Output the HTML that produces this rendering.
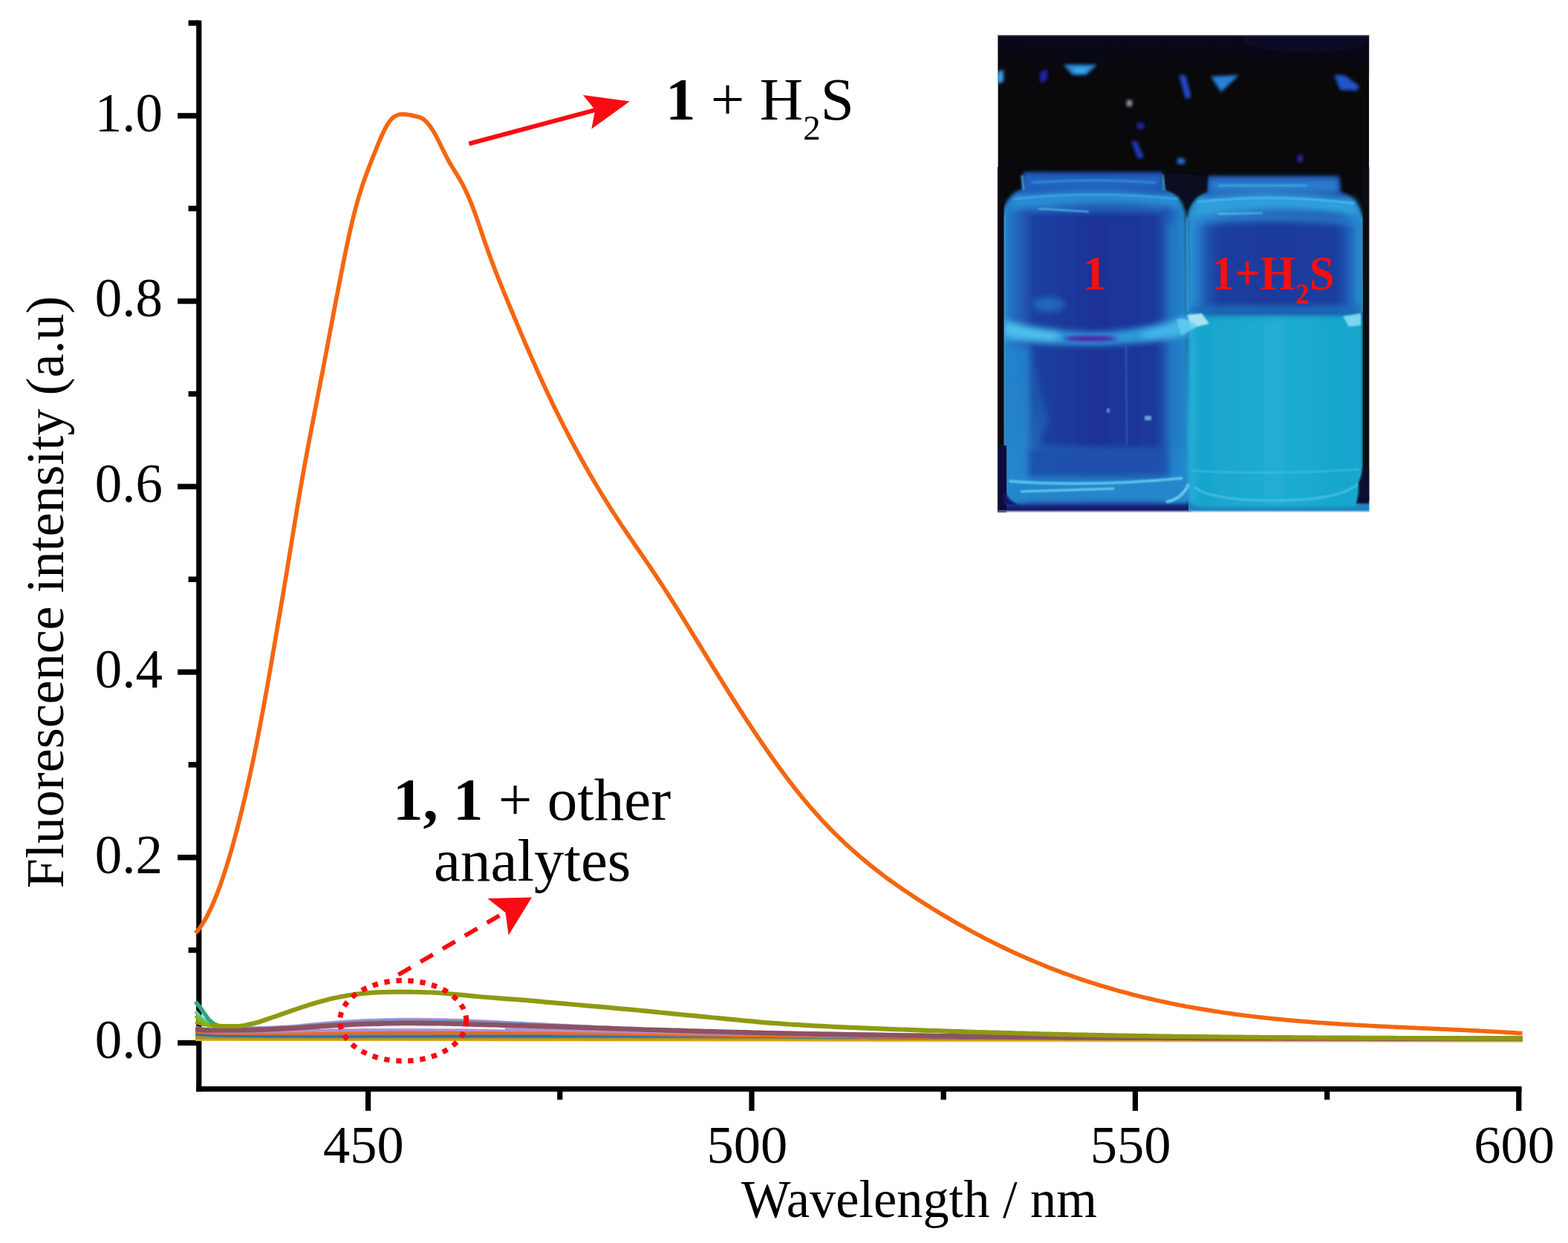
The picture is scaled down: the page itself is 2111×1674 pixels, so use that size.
<!DOCTYPE html>
<html lang="en"><head><meta charset="utf-8"><title>Fluorescence spectra</title>
<style>html,body{margin:0;padding:0;background:#fff}body{width:2111px;height:1674px;overflow:hidden}svg{display:block}text{font-family:"Liberation Serif",serif;fill:#000}</style>
</head><body>
<svg width="2111" height="1674" viewBox="0 0 2111 1674">
<rect width="2111" height="1674" fill="#fff"/>
<defs>
<clipPath id="pc"><rect x="1343.4" y="47.0" width="499.9" height="642.2"/></clipPath>
<filter id="b1" x="-10%" y="-10%" width="120%" height="120%"><feGaussianBlur stdDeviation="1.2"/></filter>
<filter id="b2" x="-10%" y="-10%" width="120%" height="120%"><feGaussianBlur stdDeviation="2"/></filter>
<filter id="b4" x="-20%" y="-20%" width="140%" height="140%"><feGaussianBlur stdDeviation="4"/></filter>
<filter id="b8" x="-30%" y="-30%" width="160%" height="160%"><feGaussianBlur stdDeviation="8"/></filter>
<linearGradient id="g1" x1="1349" x2="1599" y1="0" y2="0" gradientUnits="userSpaceOnUse"><stop offset="0" stop-color="#2f9fe0"/><stop offset="0.03" stop-color="#2478c8"/><stop offset="0.09" stop-color="#2162ba"/><stop offset="0.17" stop-color="#1f40a0"/><stop offset="0.5" stop-color="#1e3296"/><stop offset="0.82" stop-color="#1f389a"/><stop offset="0.89" stop-color="#2058b4"/><stop offset="0.95" stop-color="#2278c4"/><stop offset="1" stop-color="#2490d0"/></linearGradient>
<linearGradient id="g2" x1="1599" x2="1835" y1="0" y2="0" gradientUnits="userSpaceOnUse"><stop offset="0" stop-color="#2b98dc"/><stop offset="0.05" stop-color="#2680cc"/><stop offset="0.11" stop-color="#1f54b0"/><stop offset="0.18" stop-color="#1c3e9e"/><stop offset="0.5" stop-color="#1c3a9c"/><stop offset="0.84" stop-color="#1c3e9e"/><stop offset="0.91" stop-color="#1f58b4"/><stop offset="0.97" stop-color="#2684cc"/><stop offset="1" stop-color="#2a94d4"/></linearGradient>
<linearGradient id="gl" x1="1599" x2="1835" y1="0" y2="0" gradientUnits="userSpaceOnUse"><stop offset="0" stop-color="#2ab2da"/><stop offset="0.07" stop-color="#18a4cc"/><stop offset="0.5" stop-color="#21add2"/><stop offset="0.92" stop-color="#15a6cc"/><stop offset="1" stop-color="#1fa8d0"/></linearGradient>
<linearGradient id="gtop" x1="0" x2="0" y1="48" y2="100" gradientUnits="userSpaceOnUse"><stop offset="0" stop-color="#0a081c"/><stop offset="1" stop-color="#09090b"/></linearGradient>
<linearGradient id="gv1" x1="0" x2="0" y1="470" y2="680" gradientUnits="userSpaceOnUse"><stop offset="0" stop-color="#2490d0" stop-opacity="0.1"/><stop offset="0.5" stop-color="#2490d0" stop-opacity="0.35"/><stop offset="1" stop-color="#2a98d8" stop-opacity="0.6"/></linearGradient>
</defs>
<g clip-path="url(#pc)">
<rect x="1343.4" y="47.0" width="499.9" height="642.2" fill="#09090b"/>
<rect x="1343.4" y="47.0" width="499.9" height="54" fill="url(#gtop)"/>
<ellipse cx="1760" cy="52" rx="90" ry="18" fill="#0c0a34" opacity=".55" filter="url(#b8)"/>
<rect x="1343" y="668" width="262" height="22" fill="#17176a"/>
<rect x="1600" y="668" width="244" height="22" fill="#1c84be"/>
<g filter="url(#b2)">
<path d="M1378 232 L1565 232 L1566 254 Q1588 262 1596 286 L1600 677 L1354 679 L1349 292 Q1352 264 1378 254 Z" fill="url(#g1)"/>
<path d="M1626 237.5 L1802.5 237.5 L1804 258 Q1827 266 1834 290 L1835 668 Q1832 682 1816 683 L1618 683 Q1602 682 1599 668 L1599 292 Q1602 268 1625 258 Z" fill="url(#g2)"/>
<path d="M1599 424 L1835 424 L1835 668 Q1832 682 1816 683 L1618 683 Q1602 682 1599 668 Z" fill="url(#gl)"/>
</g>
<g filter="url(#b4)">
<rect x="1380" y="235" width="184" height="20" fill="#2466c2"/>
<path d="M1366 262 Q1470 252 1584 262 L1592 280 Q1470 268 1356 284 Z" fill="#2c8cd4"/>
<rect x="1384" y="278" width="180" height="8" fill="#2674c8" opacity=".8"/>
<path d="M1352 470 L1392 470 L1400 520 L1412 560 L1400 600 L1600 604 L1600 678 L1352 678 Z" fill="url(#gv1)"/>
<rect x="1352" y="466" width="34" height="200" fill="#2488cc" opacity=".75"/>
<rect x="1572" y="300" width="26" height="370" fill="#2284c8" opacity=".55"/>
<rect x="1384" y="604" width="190" height="38" fill="#1f4eaa" opacity=".85"/>
<rect x="1356" y="646" width="242" height="30" fill="#2786cc"/>
<rect x="1628" y="240" width="174" height="20" fill="#2a7ccc"/>
<path d="M1612 266 Q1716 256 1824 268 L1831 292 Q1716 274 1603 294 Z" fill="#2f9edc"/>
<path d="M1606 292 Q1716 280 1828 296 L1828 304 Q1716 292 1606 304 Z" fill="#2a88d0" opacity=".8"/>
<rect x="1602" y="412" width="230" height="12" fill="#1f6cba"/>
<path d="M1350 430 Q1400 445 1470 448 Q1540 446 1600 424 L1600 452 Q1540 464 1470 465 Q1400 464 1350 458 Z" fill="#2e9cdc"/>
<path d="M1540 445 Q1575 438 1600 426 L1600 448 Q1575 456 1540 460 Z" fill="#4cc0ec" opacity=".7"/>
<path d="M1352 432 Q1380 442 1424 446 L1424 458 Q1380 458 1352 452 Z" fill="#58c8f0" opacity=".8"/>
<ellipse cx="1412" cy="410" rx="22" ry="10" fill="#2a84cc" opacity=".6"/>
</g>
<g filter="url(#b1)">
<ellipse cx="1468" cy="456" rx="36" ry="3.4" fill="#5414a0" filter="url(#b2)"/>
<path d="M1351 292 L1352 676" stroke="#44b8f0" stroke-width="3" fill="none" opacity=".75"/>
<path d="M1598 292 L1599 420" stroke="#40b0ec" stroke-width="2.5" fill="none" opacity=".8"/>
<path d="M1833 292 L1834 420" stroke="#3cb0ec" stroke-width="2.5" fill="none" opacity=".7"/>
<path d="M1358 648 Q1470 656 1592 644" stroke="#5accf0" stroke-width="3.5" fill="none"/>
<path d="M1374 662 Q1440 660 1500 658" stroke="#62d0f0" stroke-width="3" fill="none"/>
<path d="M1570 676 Q1592 672 1600 652" stroke="#6ad4f2" stroke-width="3.5" fill="none"/>
<path d="M1604 634 Q1716 640 1830 632" stroke="#4ec4ea" stroke-width="2.2" fill="none" opacity=".7"/>
<path d="M1608 656 Q1630 674 1716 674 Q1806 674 1830 650" stroke="#52c8ec" stroke-width="2.5" fill="none" opacity=".8"/>
<path d="M1598 424 l20 -2 l10 14 l-24 6 z" fill="#a6e2f2"/>
<path d="M1808 426 l24 -4 l0 16 l-16 2 z" fill="#7ad6f0"/>
<path d="M1584 430 Q1598 426 1612 440 L1590 452 Z" fill="#66d0f0" opacity=".8"/>
<path d="M1398 281 L1466 285" stroke="#52c0ea" stroke-width="2.2" fill="none"/>
<path d="M1376 236 L1378 256 M1566 236 L1567 256" stroke="#4ab4ec" stroke-width="3" fill="none" opacity=".8"/>
<path d="M1390 246 Q1470 240 1556 246" stroke="#3a98e0" stroke-width="2.5" fill="none" opacity=".8"/>
<path d="M1364 268 Q1470 256 1586 268" stroke="#46b4ec" stroke-width="2.5" fill="none" opacity=".8"/>
<path d="M1640 250 L1760 250" stroke="#48b4e6" stroke-width="2.5" fill="none" opacity=".8"/>
<path d="M1612 272 Q1716 260 1824 274" stroke="#58c4f0" stroke-width="2.5" fill="none" opacity=".8"/>
<path d="M1640 288 L1700 287" stroke="#6ad0f2" stroke-width="2.2" fill="none" opacity=".8"/>
<path d="M1516 466 L1517 600" stroke="#3c78cc" stroke-width="1.6" fill="none" opacity=".7"/>
<rect x="1541" y="560" width="9" height="6" fill="#6aa0e0"/>
<rect x="1490" y="550" width="4" height="6" fill="#5a90d8"/>
<path d="M1566 232 L1626 237 L1624 258 Q1606 264 1599 282 Q1592 262 1568 254 Z" fill="#0a1020"/>
</g>
<g filter="url(#b2)">
<path d="M1432 87 L1477 87 L1462 101 L1444 101 Z" fill="#2a86dc"/>
<path d="M1444 92 L1466 92 L1458 98 L1450 98 Z" fill="#38b0e8"/>
<path d="M1400 98 l9 -5 l1 14 l-9 5 z" fill="#2424b4"/>
<path d="M1342 97 L1351 94 L1351 110 L1342 113 Z" fill="#3aa0e8"/>
<path d="M1587 101 L1596 101 L1604 131 L1596 133 Z" fill="#2648c8"/>
<path d="M1630 103 L1668 101 L1644 124 Z" fill="#2a80d8"/>
<path d="M1796 101 L1810 101 L1830 116 L1827 122 L1804 121 Z" fill="#2254cc"/>
<path d="M1523 189 l8 2 l9 21 l-8 2 z" fill="#223cbc"/>
<rect x="1585" y="213" width="10" height="8" fill="#2a6cd0"/>
<rect x="1517" y="135" width="7" height="8" fill="#a0a0b8"/>
<rect x="1747" y="209" width="7" height="9" fill="#2c2cac"/>
<rect x="1531" y="165" width="9" height="9" fill="#2020a0"/>
</g>
<rect x="1343" y="225" width="8.5" height="380" fill="#0d0712"/>
<rect x="1343" y="600" width="12" height="90" fill="#100a3c"/>
<path d="M1352 660 L1352 680 L1372 680 Q1358 676 1352 660 Z" fill="#14146a" filter="url(#b1)"/>
<rect x="1835" y="225" width="9" height="448" fill="#0c0c14"/>
<path d="M1829 650 Q1834 640 1835 630 L1844 630 L1844 678 L1826 678 Q1830 664 1829 650 Z" fill="#0a0a30" filter="url(#b1)"/>
<rect x="1343" y="687.6" width="258.5" height="1.8" fill="#8c8cc0"/>
<rect x="1601" y="687.6" width="243" height="1.8" fill="#8cc4e4"/>
<rect x="1343" y="46.8" width="501" height="1.6" fill="#6a6a78"/>
<text x="1457.5" y="389.8" font-size="65" font-weight="bold" style="fill:#f41010">1</text>
<text x="1631.5" y="389.8" font-size="65" font-weight="bold" textLength="165" lengthAdjust="spacingAndGlyphs" style="fill:#f41010">1+H<tspan font-size="40" dy="19">2</tspan><tspan dy="-19">S</tspan></text>
</g>
<g fill="#000">
<rect x="264.2" y="27.5" width="7.2" height="1442.7"/>
<rect x="264.2" y="1463.0" width="1784.4" height="7.2"/>
<rect x="239.2" y="1400.8" width="28.6" height="7.4"/>
<rect x="253.6" y="1275.9" width="14.2" height="7.4"/>
<rect x="239.2" y="1151.1" width="28.6" height="7.4"/>
<rect x="253.6" y="1026.2" width="14.2" height="7.4"/>
<rect x="239.2" y="901.4" width="28.6" height="7.4"/>
<rect x="253.6" y="776.5" width="14.2" height="7.4"/>
<rect x="239.2" y="651.6" width="28.6" height="7.4"/>
<rect x="253.6" y="526.8" width="14.2" height="7.4"/>
<rect x="239.2" y="401.9" width="28.6" height="7.4"/>
<rect x="253.6" y="277.1" width="14.2" height="7.4"/>
<rect x="239.2" y="152.2" width="28.6" height="7.4"/>
<rect x="253.6" y="27.3" width="14.2" height="7.4"/>
<rect x="492.0" y="1466.6" width="7.2" height="29.4"/>
<rect x="750.2" y="1466.6" width="7.2" height="14.4"/>
<rect x="1008.4" y="1466.6" width="7.2" height="29.4"/>
<rect x="1266.6" y="1466.6" width="7.2" height="14.4"/>
<rect x="1524.8" y="1466.6" width="7.2" height="29.4"/>
<rect x="1783.0" y="1466.6" width="7.2" height="14.4"/>
<rect x="2041.2" y="1466.6" width="7.2" height="29.4"/>
</g>
<path d="M263.2 1399.4 L2049.6 1401.4" fill="none" stroke="#dcc87a" stroke-width="5.0" stroke-linejoin="round"/>
<path d="M263.2 1398.8 L269.2 1398.8 L275.2 1398.8 L281.2 1398.8 L287.3 1398.8 L293.3 1398.8 L299.3 1398.8 L305.3 1398.8 L311.3 1398.8 L317.3 1398.8 L323.3 1398.8 L329.4 1398.9 L335.4 1398.9 L341.4 1398.9 L347.4 1398.9 L353.4 1398.9 L359.4 1398.9 L365.5 1398.9 L371.5 1398.9 L377.5 1398.9 L383.5 1398.9 L389.5 1398.9 L395.5 1398.9 L401.5 1398.9 L407.6 1398.9 L413.6 1398.9 L419.6 1398.9 L425.6 1398.9 L431.6 1398.9 L437.6 1398.9 L443.6 1398.9 L449.7 1398.9 L455.7 1398.9 L461.7 1398.9 L467.7 1398.9 L473.7 1398.9 L479.7 1399.0 L485.7 1399.0 L491.8 1399.0 L497.8 1399.0 L503.8 1399.0 L509.8 1399.0 L515.8 1399.0 L521.8 1399.0 L527.9 1399.0 L533.9 1399.0 L539.9 1399.0 L545.9 1399.0 L551.9 1399.0 L557.9 1399.0 L563.9 1399.0 L570.0 1399.0 L576.0 1399.0 L582.0 1399.0 L588.0 1399.0 L594.0 1399.0 L600.0 1399.0 L606.0 1399.0 L612.1 1399.0 L618.1 1399.0 L624.1 1399.0 L630.1 1399.0 L636.1 1399.0 L642.1 1399.0 L648.1 1399.0 L654.2 1399.1 L660.2 1399.1 L666.2 1399.1 L672.2 1399.1 L678.2 1399.1 L684.2 1399.1 L690.3 1399.1 L696.3 1399.1 L702.3 1399.1 L708.3 1399.1 L714.3 1399.1 L720.3 1399.1 L726.3 1399.1 L732.4 1399.1 L738.4 1399.1 L744.4 1399.1 L750.4 1399.1 L756.4 1399.1 L762.4 1399.1 L768.4 1399.1 L774.5 1399.1 L780.5 1399.1 L786.5 1399.1 L792.5 1399.1 L798.5 1399.1 L804.5 1399.1 L810.5 1399.1 L816.6 1399.1 L822.6 1399.1 L828.6 1399.1 L834.6 1399.1 L840.6 1399.2 L846.6 1399.2 L852.7 1399.2 L858.7 1399.2 L864.7 1399.2 L870.7 1399.2 L876.7 1399.2 L882.7 1399.2 L888.7 1399.2 L894.8 1399.2 L900.8 1399.2 L906.8 1399.2 L912.8 1399.2 L918.8 1399.2 L924.8 1399.2 L930.8 1399.2 L936.9 1399.2 L942.9 1399.2 L948.9 1399.2 L954.9 1399.2 L960.9 1399.2 L966.9 1399.2 L972.9 1399.2 L979.0 1399.2 L985.0 1399.2 L991.0 1399.2 L997.0 1399.2 L1003.0 1399.2 L1009.0 1399.2 L1015.1 1399.2 L1021.1 1399.3 L1027.1 1399.3 L1033.1 1399.3 L1039.1 1399.3 L1045.1 1399.3 L1051.1 1399.3 L1057.2 1399.3 L1063.2 1399.3 L1069.2 1399.3 L1075.2 1399.3 L1081.2 1399.3 L1087.2 1399.3 L1093.2 1399.3 L1099.3 1399.3 L1105.3 1399.3 L1111.3 1399.3 L1117.3 1399.3 L1123.3 1399.3 L1129.3 1399.3 L1135.3 1399.3 L1141.4 1399.3 L1147.4 1399.3 L1153.4 1399.3 L1159.4 1399.3 L1165.4 1399.3 L1171.4 1399.3 L1177.5 1399.4 L1183.5 1399.4 L1189.5 1399.4 L1195.5 1399.4 L1201.5 1399.4 L1207.5 1399.4 L1213.5 1399.4 L1219.6 1399.4 L1225.6 1399.4 L1231.6 1399.4 L1237.6 1399.4 L1243.6 1399.4 L1249.6 1399.4 L1255.6 1399.4 L1261.7 1399.4 L1267.7 1399.4 L1273.7 1399.4 L1279.7 1399.4 L1285.7 1399.4 L1291.7 1399.4 L1297.7 1399.4 L1303.8 1399.4 L1309.8 1399.4 L1315.8 1399.4 L1321.8 1399.4 L1327.8 1399.5 L1333.8 1399.5 L1339.9 1399.5 L1345.9 1399.5 L1351.9 1399.5 L1357.9 1399.5 L1363.9 1399.5 L1369.9 1399.5 L1375.9 1399.5 L1382.0 1399.5 L1388.0 1399.5 L1394.0 1399.5 L1400.0 1399.5 L1406.0 1399.5 L1412.0 1399.5 L1418.0 1399.5 L1424.1 1399.5 L1430.1 1399.5 L1436.1 1399.5 L1442.1 1399.5 L1448.1 1399.5 L1454.1 1399.5 L1460.1 1399.5 L1466.2 1399.5 L1472.2 1399.6 L1478.2 1399.6 L1484.2 1399.6 L1490.2 1399.6 L1496.2 1399.6 L1502.3 1399.6 L1508.3 1399.6 L1514.3 1399.6 L1520.3 1399.6 L1526.3 1399.6 L1532.3 1399.6 L1538.3 1399.6 L1544.4 1399.6 L1550.4 1399.6 L1556.4 1399.6 L1562.4 1399.6 L1568.4 1399.6 L1574.4 1399.6 L1580.4 1399.6 L1586.5 1399.6 L1592.5 1399.6 L1598.5 1399.6 L1604.5 1399.6 L1610.5 1399.7 L1616.5 1399.7 L1622.5 1399.7 L1628.6 1399.7 L1634.6 1399.7 L1640.6 1399.7 L1646.6 1399.7 L1652.6 1399.7 L1658.6 1399.7 L1664.7 1399.7 L1670.7 1399.7 L1676.7 1399.7 L1682.7 1399.7 L1688.7 1399.7 L1694.7 1399.7 L1700.7 1399.7 L1706.8 1399.7 L1712.8 1399.7 L1718.8 1399.7 L1724.8 1399.7 L1730.8 1399.7 L1736.8 1399.7 L1742.8 1399.8 L1748.9 1399.8 L1754.9 1399.8 L1760.9 1399.8 L1766.9 1399.8 L1772.9 1399.8 L1778.9 1399.8 L1784.9 1399.8 L1791.0 1399.8 L1797.0 1399.8 L1803.0 1399.8 L1809.0 1399.8 L1815.0 1399.8 L1821.0 1399.8 L1827.1 1399.8 L1833.1 1399.8 L1839.1 1399.8 L1845.1 1399.8 L1851.1 1399.8 L1857.1 1399.8 L1863.1 1399.8 L1869.2 1399.9 L1875.2 1399.9 L1881.2 1399.9 L1887.2 1399.9 L1893.2 1399.9 L1899.2 1399.9 L1905.2 1399.9 L1911.3 1399.9 L1917.3 1399.9 L1923.3 1399.9 L1929.3 1399.9 L1935.3 1399.9 L1941.3 1399.9 L1947.3 1399.9 L1953.4 1399.9 L1959.4 1399.9 L1965.4 1399.9 L1971.4 1399.9 L1977.4 1399.9 L1983.4 1399.9 L1989.5 1400.0 L1995.5 1400.0 L2001.5 1400.0 L2007.5 1400.0 L2013.5 1400.0 L2019.5 1400.0 L2025.5 1400.0 L2031.6 1400.0 L2037.6 1400.0 L2043.6 1400.0 L2049.6 1400.0" fill="none" stroke="#d8a30f" stroke-width="5.6" stroke-linejoin="round"/>
<path d="M263.2 1396.0 L269.2 1396.1 L275.2 1396.2 L281.2 1396.3 L287.3 1396.4 L293.3 1396.4 L299.3 1396.5 L305.3 1396.5 L311.3 1396.6 L317.3 1396.6 L323.3 1396.7 L329.4 1396.7 L335.4 1396.7 L341.4 1396.8 L347.4 1396.8 L353.4 1396.8 L359.4 1396.9 L365.5 1396.9 L371.5 1396.9 L377.5 1396.9 L383.5 1396.9 L389.5 1397.0 L395.5 1397.0 L401.5 1397.0 L407.6 1397.0 L413.6 1397.0 L419.6 1397.0 L425.6 1397.0 L431.6 1397.0 L437.6 1397.0 L443.6 1397.0 L449.7 1397.0 L455.7 1397.0 L461.7 1397.0 L467.7 1397.0 L473.7 1397.0 L479.7 1397.0 L485.7 1397.0 L491.8 1397.0 L497.8 1397.0 L503.8 1397.0 L509.8 1397.0 L515.8 1396.9 L521.8 1396.9 L527.9 1396.9 L533.9 1396.9 L539.9 1396.9 L545.9 1396.9 L551.9 1396.9 L557.9 1396.9 L563.9 1396.9 L570.0 1396.9 L576.0 1396.9 L582.0 1396.9 L588.0 1396.9 L594.0 1396.9 L600.0 1396.9 L606.0 1396.9 L612.1 1396.8 L618.1 1396.8 L624.1 1396.8 L630.1 1396.8 L636.1 1396.8 L642.1 1396.8 L648.1 1396.8 L654.2 1396.8 L660.2 1396.8 L666.2 1396.8 L672.2 1396.8 L678.2 1396.8 L684.2 1396.8 L690.3 1396.8 L696.3 1396.8 L702.3 1396.8 L708.3 1396.8 L714.3 1396.8 L720.3 1396.8 L726.3 1396.8 L732.4 1396.8 L738.4 1396.8 L744.4 1396.8 L750.4 1396.8 L756.4 1396.8 L762.4 1396.8 L768.4 1396.8 L774.5 1396.8 L780.5 1396.8 L786.5 1396.9 L792.5 1396.9 L798.5 1396.9 L804.5 1396.9 L810.5 1396.9 L816.6 1396.9 L822.6 1396.9 L828.6 1396.9 L834.6 1396.9 L840.6 1396.9 L846.6 1396.9 L852.7 1397.0 L858.7 1397.0 L864.7 1397.0 L870.7 1397.0 L876.7 1397.0 L882.7 1397.0 L888.7 1397.0 L894.8 1397.0 L900.8 1397.0 L906.8 1397.0 L912.8 1397.1 L918.8 1397.1 L924.8 1397.1 L930.8 1397.1 L936.9 1397.1 L942.9 1397.1 L948.9 1397.1 L954.9 1397.1 L960.9 1397.1 L966.9 1397.2 L972.9 1397.2 L979.0 1397.2 L985.0 1397.2 L991.0 1397.2 L997.0 1397.2 L1003.0 1397.2 L1009.0 1397.2 L1015.1 1397.2 L1021.1 1397.2 L1027.1 1397.2 L1033.1 1397.2 L1039.1 1397.3 L1045.1 1397.3 L1051.1 1397.3 L1057.2 1397.3 L1063.2 1397.3 L1069.2 1397.3 L1075.2 1397.3 L1081.2 1397.3 L1087.2 1397.3 L1093.2 1397.3 L1099.3 1397.3 L1105.3 1397.3 L1111.3 1397.3 L1117.3 1397.4 L1123.3 1397.4 L1129.3 1397.4 L1135.3 1397.4 L1141.4 1397.4 L1147.4 1397.4 L1153.4 1397.4 L1159.4 1397.4 L1165.4 1397.4 L1171.4 1397.4 L1177.5 1397.4 L1183.5 1397.4 L1189.5 1397.5 L1195.5 1397.5 L1201.5 1397.5 L1207.5 1397.5 L1213.5 1397.5 L1219.6 1397.5 L1225.6 1397.5 L1231.6 1397.5 L1237.6 1397.5 L1243.6 1397.5 L1249.6 1397.5 L1255.6 1397.5 L1261.7 1397.5 L1267.7 1397.6 L1273.7 1397.6 L1279.7 1397.6 L1285.7 1397.6 L1291.7 1397.6 L1297.7 1397.6 L1303.8 1397.6 L1309.8 1397.6 L1315.8 1397.6 L1321.8 1397.6 L1327.8 1397.6 L1333.8 1397.6 L1339.9 1397.7 L1345.9 1397.7 L1351.9 1397.7 L1357.9 1397.7 L1363.9 1397.7 L1369.9 1397.7 L1375.9 1397.7 L1382.0 1397.7 L1388.0 1397.7 L1394.0 1397.7 L1400.0 1397.7 L1406.0 1397.7 L1412.0 1397.7 L1418.0 1397.8 L1424.1 1397.8 L1430.1 1397.8 L1436.1 1397.8 L1442.1 1397.8 L1448.1 1397.8 L1454.1 1397.8 L1460.1 1397.8 L1466.2 1397.8 L1472.2 1397.8 L1478.2 1397.8 L1484.2 1397.8 L1490.2 1397.9 L1496.2 1397.9 L1502.3 1397.9 L1508.3 1397.9 L1514.3 1397.9 L1520.3 1397.9 L1526.3 1397.9 L1532.3 1397.9 L1538.3 1397.9 L1544.4 1397.9 L1550.4 1397.9 L1556.4 1397.9 L1562.4 1398.0 L1568.4 1398.0 L1574.4 1398.0 L1580.4 1398.0 L1586.5 1398.0 L1592.5 1398.0 L1598.5 1398.0 L1604.5 1398.0 L1610.5 1398.0 L1616.5 1398.0 L1622.5 1398.0 L1628.6 1398.0 L1634.6 1398.0 L1640.6 1398.1 L1646.6 1398.1 L1652.6 1398.1 L1658.6 1398.1 L1664.7 1398.1 L1670.7 1398.1 L1676.7 1398.1 L1682.7 1398.1 L1688.7 1398.1 L1694.7 1398.1 L1700.7 1398.1 L1706.8 1398.1 L1712.8 1398.2 L1718.8 1398.2 L1724.8 1398.2 L1730.8 1398.2 L1736.8 1398.2 L1742.8 1398.2 L1748.9 1398.2 L1754.9 1398.2 L1760.9 1398.2 L1766.9 1398.2 L1772.9 1398.2 L1778.9 1398.2 L1784.9 1398.2 L1791.0 1398.3 L1797.0 1398.3 L1803.0 1398.3 L1809.0 1398.3 L1815.0 1398.3 L1821.0 1398.3 L1827.1 1398.3 L1833.1 1398.3 L1839.1 1398.3 L1845.1 1398.3 L1851.1 1398.3 L1857.1 1398.3 L1863.1 1398.4 L1869.2 1398.4 L1875.2 1398.4 L1881.2 1398.4 L1887.2 1398.4 L1893.2 1398.4 L1899.2 1398.4 L1905.2 1398.4 L1911.3 1398.4 L1917.3 1398.4 L1923.3 1398.4 L1929.3 1398.4 L1935.3 1398.4 L1941.3 1398.5 L1947.3 1398.5 L1953.4 1398.5 L1959.4 1398.5 L1965.4 1398.5 L1971.4 1398.5 L1977.4 1398.5 L1983.4 1398.5 L1989.5 1398.5 L1995.5 1398.5 L2001.5 1398.5 L2007.5 1398.5 L2013.5 1398.6 L2019.5 1398.6 L2025.5 1398.6 L2031.6 1398.6 L2037.6 1398.6 L2043.6 1398.6 L2049.6 1398.6" fill="none" stroke="#a8902a" stroke-width="5.6" stroke-linejoin="round"/>
<path d="M263.2 1349.0 L269.2 1356.3 L275.2 1365.0 L281.2 1373.3 L287.3 1378.5 L293.3 1381.3 L299.3 1382.9 L305.3 1383.5 L311.3 1383.9 L317.3 1384.3 L323.3 1384.5 L329.4 1384.7 L335.4 1384.9 L341.4 1385.0 L347.4 1385.2 L353.4 1385.3 L359.4 1385.4 L365.5 1385.5 L371.5 1385.6 L377.5 1385.7 L383.5 1385.8 L389.5 1385.8 L395.5 1385.9 L401.5 1385.9 L407.6 1386.0 L413.6 1386.0 L419.6 1386.0 L425.6 1386.0 L431.6 1386.0 L437.6 1386.0 L443.6 1386.0 L449.7 1386.0 L455.7 1386.0 L461.7 1386.0 L467.7 1386.0 L473.7 1386.0 L479.7 1386.0 L485.7 1386.0 L491.8 1386.0 L497.8 1386.0 L503.8 1386.0 L509.8 1386.0 L515.8 1386.0 L521.8 1386.0 L527.9 1386.0 L533.9 1386.0 L539.9 1386.1 L545.9 1386.2 L551.9 1386.2 L557.9 1386.3 L563.9 1386.4 L570.0 1386.5 L576.0 1386.6 L582.0 1386.7 L588.0 1386.8 L594.0 1386.9 L600.0 1387.0 L606.0 1387.1 L612.1 1387.2 L618.1 1387.3 L624.1 1387.4 L630.1 1387.5 L636.1 1387.7 L642.1 1387.8 L648.1 1387.9 L654.2 1388.0 L660.2 1388.2 L666.2 1388.3 L672.2 1388.4 L678.2 1388.5 L684.2 1388.7 L690.3 1388.8 L696.3 1388.9 L702.3 1389.0 L708.3 1389.2 L714.3 1389.3 L720.3 1389.4 L726.3 1389.5 L732.4 1389.7 L738.4 1389.8 L744.4 1389.9 L750.4 1390.1 L756.4 1390.2 L762.4 1390.3 L768.4 1390.4 L774.5 1390.6 L780.5 1390.7 L786.5 1390.8 L792.5 1391.0 L798.5 1391.1 L804.5 1391.2 L810.5 1391.3 L816.6 1391.5 L822.6 1391.6 L828.6 1391.7 L834.6 1391.8 L840.6 1392.0 L846.6 1392.1 L852.7 1392.2 L858.7 1392.3 L864.7 1392.4 L870.7 1392.5 L876.7 1392.6 L882.7 1392.7 L888.7 1392.8 L894.8 1392.9 L900.8 1393.0 L906.8 1393.1 L912.8 1393.2 L918.8 1393.3 L924.8 1393.4 L930.8 1393.5 L936.9 1393.6 L942.9 1393.6 L948.9 1393.7 L954.9 1393.8 L960.9 1393.9 L966.9 1394.0 L972.9 1394.1 L979.0 1394.2 L985.0 1394.3 L991.0 1394.3 L997.0 1394.4 L1003.0 1394.5 L1009.0 1394.6 L1015.1 1394.7 L1021.1 1394.8 L1027.1 1394.8 L1033.1 1394.9 L1039.1 1395.0 L1045.1 1395.1 L1051.1 1395.2 L1057.2 1395.2 L1063.2 1395.3 L1069.2 1395.4 L1075.2 1395.5 L1081.2 1395.5 L1087.2 1395.6 L1093.2 1395.7 L1099.3 1395.7 L1105.3 1395.8 L1111.3 1395.8 L1117.3 1395.9 L1123.3 1396.0 L1129.3 1396.0 L1135.3 1396.1 L1141.4 1396.1 L1147.4 1396.2 L1153.4 1396.2 L1159.4 1396.3 L1165.4 1396.3 L1171.4 1396.3 L1177.5 1396.4 L1183.5 1396.4 L1189.5 1396.4 L1195.5 1396.5 L1201.5 1396.5 L1207.5 1396.5 L1213.5 1396.6 L1219.6 1396.6 L1225.6 1396.6 L1231.6 1396.6 L1237.6 1396.7 L1243.6 1396.7 L1249.6 1396.7 L1255.6 1396.7 L1261.7 1396.8 L1267.7 1396.8 L1273.7 1396.8 L1279.7 1396.8 L1285.7 1396.9 L1291.7 1396.9 L1297.7 1396.9 L1303.8 1396.9 L1309.8 1397.0 L1315.8 1397.0 L1321.8 1397.0 L1327.8 1397.0 L1333.8 1397.0 L1339.9 1397.1 L1345.9 1397.1 L1351.9 1397.1 L1357.9 1397.1 L1363.9 1397.2 L1369.9 1397.2 L1375.9 1397.2 L1382.0 1397.2 L1388.0 1397.2 L1394.0 1397.3 L1400.0 1397.3 L1406.0 1397.3 L1412.0 1397.3 L1418.0 1397.4 L1424.1 1397.4 L1430.1 1397.4 L1436.1 1397.4 L1442.1 1397.4 L1448.1 1397.5 L1454.1 1397.5 L1460.1 1397.5 L1466.2 1397.5 L1472.2 1397.5 L1478.2 1397.6 L1484.2 1397.6 L1490.2 1397.6 L1496.2 1397.6 L1502.3 1397.6 L1508.3 1397.6 L1514.3 1397.7 L1520.3 1397.7 L1526.3 1397.7 L1532.3 1397.7 L1538.3 1397.7 L1544.4 1397.8 L1550.4 1397.8 L1556.4 1397.8 L1562.4 1397.8 L1568.4 1397.8 L1574.4 1397.8 L1580.4 1397.9 L1586.5 1397.9 L1592.5 1397.9 L1598.5 1397.9 L1604.5 1397.9 L1610.5 1397.9 L1616.5 1397.9 L1622.5 1398.0 L1628.6 1398.0 L1634.6 1398.0 L1640.6 1398.0 L1646.6 1398.0 L1652.6 1398.0 L1658.6 1398.0 L1664.7 1398.1 L1670.7 1398.1 L1676.7 1398.1 L1682.7 1398.1 L1688.7 1398.1 L1694.7 1398.1 L1700.7 1398.1 L1706.8 1398.1 L1712.8 1398.2 L1718.8 1398.2 L1724.8 1398.2 L1730.8 1398.2 L1736.8 1398.2 L1742.8 1398.2 L1748.9 1398.2 L1754.9 1398.2 L1760.9 1398.2 L1766.9 1398.3 L1772.9 1398.3 L1778.9 1398.3 L1784.9 1398.3 L1791.0 1398.3 L1797.0 1398.3 L1803.0 1398.3 L1809.0 1398.3 L1815.0 1398.3 L1821.0 1398.3 L1827.1 1398.3 L1833.1 1398.4 L1839.1 1398.4 L1845.1 1398.4 L1851.1 1398.4 L1857.1 1398.4 L1863.1 1398.4 L1869.2 1398.4 L1875.2 1398.4 L1881.2 1398.4 L1887.2 1398.4 L1893.2 1398.4 L1899.2 1398.4 L1905.2 1398.4 L1911.3 1398.4 L1917.3 1398.4 L1923.3 1398.5 L1929.3 1398.5 L1935.3 1398.5 L1941.3 1398.5 L1947.3 1398.5 L1953.4 1398.5 L1959.4 1398.5 L1965.4 1398.5 L1971.4 1398.5 L1977.4 1398.5 L1983.4 1398.5 L1989.5 1398.5 L1995.5 1398.5 L2001.5 1398.5 L2007.5 1398.5 L2013.5 1398.5 L2019.5 1398.5 L2025.5 1398.5 L2031.6 1398.5 L2037.6 1398.5 L2043.6 1398.5 L2049.6 1398.5" fill="none" stroke="#2fa77c" stroke-width="5.6" stroke-linejoin="round"/>
<path d="M263.2 1362.0 L269.2 1368.8 L275.2 1374.2 L281.2 1378.7 L287.3 1382.2 L293.3 1383.6 L299.3 1384.6 L305.3 1385.4 L311.3 1386.1 L317.3 1386.6 L323.3 1386.9 L329.4 1387.0 L335.4 1387.0 L341.4 1387.0 L347.4 1386.9 L353.4 1386.9 L359.4 1386.8 L365.5 1386.7 L371.5 1386.6 L377.5 1386.5 L383.5 1386.4 L389.5 1386.4 L395.5 1386.3 L401.5 1386.2 L407.6 1386.1 L413.6 1386.1 L419.6 1386.0 L425.6 1386.0 L431.6 1386.0 L437.6 1386.0 L443.6 1386.0 L449.7 1386.0 L455.7 1386.1 L461.7 1386.1 L467.7 1386.1 L473.7 1386.2 L479.7 1386.2 L485.7 1386.2 L491.8 1386.3 L497.8 1386.3 L503.8 1386.4 L509.8 1386.4 L515.8 1386.5 L521.8 1386.5 L527.9 1386.6 L533.9 1386.6 L539.9 1386.7 L545.9 1386.7 L551.9 1386.8 L557.9 1386.9 L563.9 1386.9 L570.0 1387.0 L576.0 1387.1 L582.0 1387.2 L588.0 1387.2 L594.0 1387.3 L600.0 1387.4 L606.0 1387.5 L612.1 1387.6 L618.1 1387.7 L624.1 1387.8 L630.1 1387.9 L636.1 1387.9 L642.1 1388.0 L648.1 1388.1 L654.2 1388.2 L660.2 1388.3 L666.2 1388.4 L672.2 1388.5 L678.2 1388.7 L684.2 1388.8 L690.3 1388.9 L696.3 1389.0 L702.3 1389.2 L708.3 1389.3 L714.3 1389.4 L720.3 1389.6 L726.3 1389.7 L732.4 1389.8 L738.4 1390.0 L744.4 1390.1 L750.4 1390.2 L756.4 1390.4 L762.4 1390.5 L768.4 1390.7 L774.5 1390.8 L780.5 1390.9 L786.5 1391.1 L792.5 1391.2 L798.5 1391.3 L804.5 1391.5 L810.5 1391.6 L816.6 1391.7 L822.6 1391.8 L828.6 1392.0 L834.6 1392.1 L840.6 1392.2 L846.6 1392.3 L852.7 1392.4 L858.7 1392.5 L864.7 1392.6 L870.7 1392.7 L876.7 1392.7 L882.7 1392.8 L888.7 1392.9 L894.8 1393.0 L900.8 1393.0 L906.8 1393.1 L912.8 1393.1 L918.8 1393.2 L924.8 1393.2 L930.8 1393.3 L936.9 1393.3 L942.9 1393.4 L948.9 1393.4 L954.9 1393.5 L960.9 1393.5 L966.9 1393.6 L972.9 1393.6 L979.0 1393.7 L985.0 1393.7 L991.0 1393.8 L997.0 1393.8 L1003.0 1393.9 L1009.0 1393.9 L1015.1 1394.0 L1021.1 1394.0 L1027.1 1394.1 L1033.1 1394.1 L1039.1 1394.2 L1045.1 1394.2 L1051.1 1394.3 L1057.2 1394.3 L1063.2 1394.4 L1069.2 1394.4 L1075.2 1394.4 L1081.2 1394.5 L1087.2 1394.5 L1093.2 1394.6 L1099.3 1394.6 L1105.3 1394.7 L1111.3 1394.7 L1117.3 1394.8 L1123.3 1394.8 L1129.3 1394.9 L1135.3 1394.9 L1141.4 1394.9 L1147.4 1395.0 L1153.4 1395.0 L1159.4 1395.1 L1165.4 1395.1 L1171.4 1395.2 L1177.5 1395.2 L1183.5 1395.2 L1189.5 1395.3 L1195.5 1395.3 L1201.5 1395.4 L1207.5 1395.4 L1213.5 1395.5 L1219.6 1395.5 L1225.6 1395.5 L1231.6 1395.6 L1237.6 1395.6 L1243.6 1395.7 L1249.6 1395.7 L1255.6 1395.7 L1261.7 1395.8 L1267.7 1395.8 L1273.7 1395.9 L1279.7 1395.9 L1285.7 1395.9 L1291.7 1396.0 L1297.7 1396.0 L1303.8 1396.0 L1309.8 1396.1 L1315.8 1396.1 L1321.8 1396.2 L1327.8 1396.2 L1333.8 1396.2 L1339.9 1396.3 L1345.9 1396.3 L1351.9 1396.3 L1357.9 1396.4 L1363.9 1396.4 L1369.9 1396.4 L1375.9 1396.5 L1382.0 1396.5 L1388.0 1396.5 L1394.0 1396.6 L1400.0 1396.6 L1406.0 1396.6 L1412.0 1396.7 L1418.0 1396.7 L1424.1 1396.7 L1430.1 1396.8 L1436.1 1396.8 L1442.1 1396.8 L1448.1 1396.9 L1454.1 1396.9 L1460.1 1396.9 L1466.2 1397.0 L1472.2 1397.0 L1478.2 1397.0 L1484.2 1397.1 L1490.2 1397.1 L1496.2 1397.1 L1502.3 1397.1 L1508.3 1397.2 L1514.3 1397.2 L1520.3 1397.2 L1526.3 1397.3 L1532.3 1397.3 L1538.3 1397.3 L1544.4 1397.3 L1550.4 1397.4 L1556.4 1397.4 L1562.4 1397.4 L1568.4 1397.4 L1574.4 1397.5 L1580.4 1397.5 L1586.5 1397.5 L1592.5 1397.5 L1598.5 1397.6 L1604.5 1397.6 L1610.5 1397.6 L1616.5 1397.6 L1622.5 1397.7 L1628.6 1397.7 L1634.6 1397.7 L1640.6 1397.7 L1646.6 1397.8 L1652.6 1397.8 L1658.6 1397.8 L1664.7 1397.8 L1670.7 1397.8 L1676.7 1397.9 L1682.7 1397.9 L1688.7 1397.9 L1694.7 1397.9 L1700.7 1397.9 L1706.8 1398.0 L1712.8 1398.0 L1718.8 1398.0 L1724.8 1398.0 L1730.8 1398.0 L1736.8 1398.0 L1742.8 1398.1 L1748.9 1398.1 L1754.9 1398.1 L1760.9 1398.1 L1766.9 1398.1 L1772.9 1398.1 L1778.9 1398.2 L1784.9 1398.2 L1791.0 1398.2 L1797.0 1398.2 L1803.0 1398.2 L1809.0 1398.2 L1815.0 1398.2 L1821.0 1398.3 L1827.1 1398.3 L1833.1 1398.3 L1839.1 1398.3 L1845.1 1398.3 L1851.1 1398.3 L1857.1 1398.3 L1863.1 1398.3 L1869.2 1398.3 L1875.2 1398.4 L1881.2 1398.4 L1887.2 1398.4 L1893.2 1398.4 L1899.2 1398.4 L1905.2 1398.4 L1911.3 1398.4 L1917.3 1398.4 L1923.3 1398.4 L1929.3 1398.4 L1935.3 1398.4 L1941.3 1398.4 L1947.3 1398.4 L1953.4 1398.5 L1959.4 1398.5 L1965.4 1398.5 L1971.4 1398.5 L1977.4 1398.5 L1983.4 1398.5 L1989.5 1398.5 L1995.5 1398.5 L2001.5 1398.5 L2007.5 1398.5 L2013.5 1398.5 L2019.5 1398.5 L2025.5 1398.5 L2031.6 1398.5 L2037.6 1398.5 L2043.6 1398.5 L2049.6 1398.5" fill="none" stroke="#62c9a3" stroke-width="4.5" stroke-linejoin="round"/>
<path d="M263.2 1392.0 L269.2 1392.4 L275.2 1392.8 L281.2 1393.2 L287.3 1393.6 L293.3 1393.8 L299.3 1394.0 L305.3 1394.1 L311.3 1394.1 L317.3 1394.2 L323.3 1394.3 L329.4 1394.3 L335.4 1394.4 L341.4 1394.4 L347.4 1394.5 L353.4 1394.5 L359.4 1394.6 L365.5 1394.6 L371.5 1394.6 L377.5 1394.7 L383.5 1394.7 L389.5 1394.7 L395.5 1394.7 L401.5 1394.8 L407.6 1394.8 L413.6 1394.8 L419.6 1394.8 L425.6 1394.8 L431.6 1394.8 L437.6 1394.8 L443.6 1394.8 L449.7 1394.8 L455.7 1394.8 L461.7 1394.8 L467.7 1394.8 L473.7 1394.8 L479.7 1394.8 L485.7 1394.8 L491.8 1394.8 L497.8 1394.8 L503.8 1394.8 L509.8 1394.8 L515.8 1394.8 L521.8 1394.7 L527.9 1394.7 L533.9 1394.7 L539.9 1394.7 L545.9 1394.7 L551.9 1394.7 L557.9 1394.7 L563.9 1394.7 L570.0 1394.7 L576.0 1394.7 L582.0 1394.7 L588.0 1394.7 L594.0 1394.7 L600.0 1394.7 L606.0 1394.7 L612.1 1394.6 L618.1 1394.6 L624.1 1394.6 L630.1 1394.6 L636.1 1394.6 L642.1 1394.6 L648.1 1394.6 L654.2 1394.6 L660.2 1394.6 L666.2 1394.6 L672.2 1394.6 L678.2 1394.6 L684.2 1394.6 L690.3 1394.6 L696.3 1394.6 L702.3 1394.6 L708.3 1394.6 L714.3 1394.6 L720.3 1394.6 L726.3 1394.6 L732.4 1394.6 L738.4 1394.6 L744.4 1394.6 L750.4 1394.6 L756.4 1394.6 L762.4 1394.6 L768.4 1394.6 L774.5 1394.6 L780.5 1394.6 L786.5 1394.6 L792.5 1394.6 L798.5 1394.6 L804.5 1394.6 L810.5 1394.6 L816.6 1394.6 L822.6 1394.7 L828.6 1394.7 L834.6 1394.7 L840.6 1394.7 L846.6 1394.7 L852.7 1394.7 L858.7 1394.7 L864.7 1394.7 L870.7 1394.7 L876.7 1394.7 L882.7 1394.7 L888.7 1394.7 L894.8 1394.7 L900.8 1394.7 L906.8 1394.7 L912.8 1394.7 L918.8 1394.8 L924.8 1394.8 L930.8 1394.8 L936.9 1394.8 L942.9 1394.8 L948.9 1394.8 L954.9 1394.8 L960.9 1394.8 L966.9 1394.8 L972.9 1394.9 L979.0 1394.9 L985.0 1394.9 L991.0 1394.9 L997.0 1395.0 L1003.0 1395.0 L1009.0 1395.0 L1015.1 1395.1 L1021.1 1395.1 L1027.1 1395.2 L1033.1 1395.2 L1039.1 1395.3 L1045.1 1395.3 L1051.1 1395.4 L1057.2 1395.4 L1063.2 1395.5 L1069.2 1395.5 L1075.2 1395.6 L1081.2 1395.6 L1087.2 1395.7 L1093.2 1395.7 L1099.3 1395.8 L1105.3 1395.8 L1111.3 1395.9 L1117.3 1395.9 L1123.3 1396.0 L1129.3 1396.0 L1135.3 1396.1 L1141.4 1396.1 L1147.4 1396.2 L1153.4 1396.2 L1159.4 1396.3 L1165.4 1396.3 L1171.4 1396.4 L1177.5 1396.4 L1183.5 1396.4 L1189.5 1396.5 L1195.5 1396.5 L1201.5 1396.5 L1207.5 1396.5 L1213.5 1396.6 L1219.6 1396.6 L1225.6 1396.6 L1231.6 1396.6 L1237.6 1396.6 L1243.6 1396.7 L1249.6 1396.7 L1255.6 1396.7 L1261.7 1396.7 L1267.7 1396.8 L1273.7 1396.8 L1279.7 1396.8 L1285.7 1396.8 L1291.7 1396.9 L1297.7 1396.9 L1303.8 1396.9 L1309.8 1396.9 L1315.8 1396.9 L1321.8 1397.0 L1327.8 1397.0 L1333.8 1397.0 L1339.9 1397.0 L1345.9 1397.1 L1351.9 1397.1 L1357.9 1397.1 L1363.9 1397.1 L1369.9 1397.1 L1375.9 1397.2 L1382.0 1397.2 L1388.0 1397.2 L1394.0 1397.2 L1400.0 1397.3 L1406.0 1397.3 L1412.0 1397.3 L1418.0 1397.3 L1424.1 1397.3 L1430.1 1397.4 L1436.1 1397.4 L1442.1 1397.4 L1448.1 1397.4 L1454.1 1397.4 L1460.1 1397.5 L1466.2 1397.5 L1472.2 1397.5 L1478.2 1397.5 L1484.2 1397.5 L1490.2 1397.6 L1496.2 1397.6 L1502.3 1397.6 L1508.3 1397.6 L1514.3 1397.6 L1520.3 1397.7 L1526.3 1397.7 L1532.3 1397.7 L1538.3 1397.7 L1544.4 1397.7 L1550.4 1397.8 L1556.4 1397.8 L1562.4 1397.8 L1568.4 1397.8 L1574.4 1397.8 L1580.4 1397.8 L1586.5 1397.9 L1592.5 1397.9 L1598.5 1397.9 L1604.5 1397.9 L1610.5 1397.9 L1616.5 1397.9 L1622.5 1398.0 L1628.6 1398.0 L1634.6 1398.0 L1640.6 1398.0 L1646.6 1398.0 L1652.6 1398.0 L1658.6 1398.1 L1664.7 1398.1 L1670.7 1398.1 L1676.7 1398.1 L1682.7 1398.1 L1688.7 1398.1 L1694.7 1398.1 L1700.7 1398.2 L1706.8 1398.2 L1712.8 1398.2 L1718.8 1398.2 L1724.8 1398.2 L1730.8 1398.2 L1736.8 1398.2 L1742.8 1398.3 L1748.9 1398.3 L1754.9 1398.3 L1760.9 1398.3 L1766.9 1398.3 L1772.9 1398.3 L1778.9 1398.3 L1784.9 1398.3 L1791.0 1398.4 L1797.0 1398.4 L1803.0 1398.4 L1809.0 1398.4 L1815.0 1398.4 L1821.0 1398.4 L1827.1 1398.4 L1833.1 1398.4 L1839.1 1398.4 L1845.1 1398.4 L1851.1 1398.5 L1857.1 1398.5 L1863.1 1398.5 L1869.2 1398.5 L1875.2 1398.5 L1881.2 1398.5 L1887.2 1398.5 L1893.2 1398.5 L1899.2 1398.5 L1905.2 1398.5 L1911.3 1398.5 L1917.3 1398.5 L1923.3 1398.5 L1929.3 1398.5 L1935.3 1398.5 L1941.3 1398.6 L1947.3 1398.6 L1953.4 1398.6 L1959.4 1398.6 L1965.4 1398.6 L1971.4 1398.6 L1977.4 1398.6 L1983.4 1398.6 L1989.5 1398.6 L1995.5 1398.6 L2001.5 1398.6 L2007.5 1398.6 L2013.5 1398.6 L2019.5 1398.6 L2025.5 1398.6 L2031.6 1398.6 L2037.6 1398.6 L2043.6 1398.6 L2049.6 1398.6" fill="none" stroke="#2f70a4" stroke-width="5.6" stroke-linejoin="round"/>
<path d="M263.2 1390.0 L269.2 1390.4 L275.2 1390.8 L281.2 1391.2 L287.3 1391.6 L293.3 1391.9 L299.3 1392.0 L305.3 1392.0 L311.3 1392.1 L317.3 1392.1 L323.3 1392.1 L329.4 1392.2 L335.4 1392.2 L341.4 1392.2 L347.4 1392.3 L353.4 1392.3 L359.4 1392.3 L365.5 1392.3 L371.5 1392.3 L377.5 1392.3 L383.5 1392.4 L389.5 1392.4 L395.5 1392.4 L401.5 1392.4 L407.6 1392.4 L413.6 1392.4 L419.6 1392.4 L425.6 1392.4 L431.6 1392.4 L437.6 1392.4 L443.6 1392.4 L449.7 1392.4 L455.7 1392.4 L461.7 1392.4 L467.7 1392.4 L473.7 1392.4 L479.7 1392.4 L485.7 1392.4 L491.8 1392.3 L497.8 1392.3 L503.8 1392.3 L509.8 1392.3 L515.8 1392.3 L521.8 1392.3 L527.9 1392.3 L533.9 1392.3 L539.9 1392.3 L545.9 1392.2 L551.9 1392.2 L557.9 1392.2 L563.9 1392.2 L570.0 1392.2 L576.0 1392.2 L582.0 1392.2 L588.0 1392.1 L594.0 1392.1 L600.0 1392.1 L606.0 1392.1 L612.1 1392.1 L618.1 1392.1 L624.1 1392.1 L630.1 1392.1 L636.1 1392.1 L642.1 1392.0 L648.1 1392.0 L654.2 1392.0 L660.2 1392.0 L666.2 1392.0 L672.2 1392.0 L678.2 1392.0 L684.2 1392.0 L690.3 1392.0 L696.3 1392.0 L702.3 1392.0 L708.3 1392.0 L714.3 1392.0 L720.3 1392.0 L726.3 1392.0 L732.4 1392.1 L738.4 1392.1 L744.4 1392.1 L750.4 1392.2 L756.4 1392.2 L762.4 1392.2 L768.4 1392.3 L774.5 1392.3 L780.5 1392.4 L786.5 1392.4 L792.5 1392.5 L798.5 1392.5 L804.5 1392.6 L810.5 1392.7 L816.6 1392.7 L822.6 1392.8 L828.6 1392.9 L834.6 1392.9 L840.6 1393.0 L846.6 1393.0 L852.7 1393.1 L858.7 1393.2 L864.7 1393.2 L870.7 1393.3 L876.7 1393.4 L882.7 1393.4 L888.7 1393.5 L894.8 1393.6 L900.8 1393.6 L906.8 1393.7 L912.8 1393.7 L918.8 1393.8 L924.8 1393.8 L930.8 1393.9 L936.9 1393.9 L942.9 1394.0 L948.9 1394.0 L954.9 1394.0 L960.9 1394.1 L966.9 1394.1 L972.9 1394.1 L979.0 1394.2 L985.0 1394.2 L991.0 1394.2 L997.0 1394.3 L1003.0 1394.3 L1009.0 1394.3 L1015.1 1394.4 L1021.1 1394.4 L1027.1 1394.5 L1033.1 1394.5 L1039.1 1394.5 L1045.1 1394.6 L1051.1 1394.6 L1057.2 1394.6 L1063.2 1394.7 L1069.2 1394.7 L1075.2 1394.7 L1081.2 1394.8 L1087.2 1394.8 L1093.2 1394.8 L1099.3 1394.9 L1105.3 1394.9 L1111.3 1394.9 L1117.3 1395.0 L1123.3 1395.0 L1129.3 1395.0 L1135.3 1395.1 L1141.4 1395.1 L1147.4 1395.1 L1153.4 1395.2 L1159.4 1395.2 L1165.4 1395.2 L1171.4 1395.3 L1177.5 1395.3 L1183.5 1395.3 L1189.5 1395.4 L1195.5 1395.4 L1201.5 1395.4 L1207.5 1395.5 L1213.5 1395.5 L1219.6 1395.5 L1225.6 1395.6 L1231.6 1395.6 L1237.6 1395.6 L1243.6 1395.7 L1249.6 1395.7 L1255.6 1395.7 L1261.7 1395.8 L1267.7 1395.8 L1273.7 1395.8 L1279.7 1395.9 L1285.7 1395.9 L1291.7 1395.9 L1297.7 1396.0 L1303.8 1396.0 L1309.8 1396.0 L1315.8 1396.1 L1321.8 1396.1 L1327.8 1396.1 L1333.8 1396.2 L1339.9 1396.2 L1345.9 1396.2 L1351.9 1396.2 L1357.9 1396.3 L1363.9 1396.3 L1369.9 1396.3 L1375.9 1396.4 L1382.0 1396.4 L1388.0 1396.4 L1394.0 1396.5 L1400.0 1396.5 L1406.0 1396.5 L1412.0 1396.5 L1418.0 1396.6 L1424.1 1396.6 L1430.1 1396.6 L1436.1 1396.7 L1442.1 1396.7 L1448.1 1396.7 L1454.1 1396.7 L1460.1 1396.8 L1466.2 1396.8 L1472.2 1396.8 L1478.2 1396.9 L1484.2 1396.9 L1490.2 1396.9 L1496.2 1396.9 L1502.3 1397.0 L1508.3 1397.0 L1514.3 1397.0 L1520.3 1397.1 L1526.3 1397.1 L1532.3 1397.1 L1538.3 1397.1 L1544.4 1397.2 L1550.4 1397.2 L1556.4 1397.2 L1562.4 1397.2 L1568.4 1397.3 L1574.4 1397.3 L1580.4 1397.3 L1586.5 1397.3 L1592.5 1397.4 L1598.5 1397.4 L1604.5 1397.4 L1610.5 1397.4 L1616.5 1397.5 L1622.5 1397.5 L1628.6 1397.5 L1634.6 1397.5 L1640.6 1397.6 L1646.6 1397.6 L1652.6 1397.6 L1658.6 1397.6 L1664.7 1397.6 L1670.7 1397.7 L1676.7 1397.7 L1682.7 1397.7 L1688.7 1397.7 L1694.7 1397.8 L1700.7 1397.8 L1706.8 1397.8 L1712.8 1397.8 L1718.8 1397.8 L1724.8 1397.9 L1730.8 1397.9 L1736.8 1397.9 L1742.8 1397.9 L1748.9 1397.9 L1754.9 1398.0 L1760.9 1398.0 L1766.9 1398.0 L1772.9 1398.0 L1778.9 1398.0 L1784.9 1398.0 L1791.0 1398.1 L1797.0 1398.1 L1803.0 1398.1 L1809.0 1398.1 L1815.0 1398.1 L1821.0 1398.2 L1827.1 1398.2 L1833.1 1398.2 L1839.1 1398.2 L1845.1 1398.2 L1851.1 1398.2 L1857.1 1398.2 L1863.1 1398.3 L1869.2 1398.3 L1875.2 1398.3 L1881.2 1398.3 L1887.2 1398.3 L1893.2 1398.3 L1899.2 1398.3 L1905.2 1398.4 L1911.3 1398.4 L1917.3 1398.4 L1923.3 1398.4 L1929.3 1398.4 L1935.3 1398.4 L1941.3 1398.4 L1947.3 1398.4 L1953.4 1398.5 L1959.4 1398.5 L1965.4 1398.5 L1971.4 1398.5 L1977.4 1398.5 L1983.4 1398.5 L1989.5 1398.5 L1995.5 1398.5 L2001.5 1398.5 L2007.5 1398.5 L2013.5 1398.6 L2019.5 1398.6 L2025.5 1398.6 L2031.6 1398.6 L2037.6 1398.6 L2043.6 1398.6 L2049.6 1398.6" fill="none" stroke="#a07a68" stroke-width="4.0" stroke-linejoin="round"/>
<path d="M263.2 1388.0 L269.2 1388.6 L275.2 1389.3 L281.2 1389.9 L287.3 1390.4 L293.3 1390.8 L299.3 1391.0 L305.3 1391.1 L311.3 1391.1 L317.3 1391.2 L323.3 1391.3 L329.4 1391.3 L335.4 1391.3 L341.4 1391.4 L347.4 1391.4 L353.4 1391.4 L359.4 1391.5 L365.5 1391.5 L371.5 1391.5 L377.5 1391.5 L383.5 1391.5 L389.5 1391.4 L395.5 1391.3 L401.5 1391.2 L407.6 1391.1 L413.6 1390.9 L419.6 1390.7 L425.6 1390.5 L431.6 1390.4 L437.6 1390.2 L443.6 1390.1 L449.7 1390.0 L455.7 1389.9 L461.7 1389.9 L467.7 1389.8 L473.7 1389.7 L479.7 1389.7 L485.7 1389.6 L491.8 1389.6 L497.8 1389.5 L503.8 1389.5 L509.8 1389.4 L515.8 1389.4 L521.8 1389.4 L527.9 1389.3 L533.9 1389.3 L539.9 1389.3 L545.9 1389.3 L551.9 1389.3 L557.9 1389.3 L563.9 1389.3 L570.0 1389.3 L576.0 1389.3 L582.0 1389.3 L588.0 1389.3 L594.0 1389.3 L600.0 1389.3 L606.0 1389.4 L612.1 1389.4 L618.1 1389.4 L624.1 1389.4 L630.1 1389.4 L636.1 1389.4 L642.1 1389.4 L648.1 1389.4 L654.2 1389.5 L660.2 1389.5 L666.2 1389.5 L672.2 1389.5 L678.2 1389.5 L684.2 1389.5 L690.3 1389.6 L696.3 1389.6 L702.3 1389.6 L708.3 1389.6 L714.3 1389.7 L720.3 1389.7 L726.3 1389.8 L732.4 1389.9 L738.4 1390.0 L744.4 1390.1 L750.4 1390.2 L756.4 1390.3 L762.4 1390.4 L768.4 1390.5 L774.5 1390.6 L780.5 1390.7 L786.5 1390.8 L792.5 1390.9 L798.5 1391.0 L804.5 1391.1 L810.5 1391.2 L816.6 1391.3 L822.6 1391.4 L828.6 1391.5 L834.6 1391.6 L840.6 1391.7 L846.6 1391.8 L852.7 1391.9 L858.7 1392.0 L864.7 1392.2 L870.7 1392.3 L876.7 1392.4 L882.7 1392.5 L888.7 1392.6 L894.8 1392.7 L900.8 1392.9 L906.8 1393.0 L912.8 1393.1 L918.8 1393.2 L924.8 1393.3 L930.8 1393.4 L936.9 1393.5 L942.9 1393.6 L948.9 1393.8 L954.9 1393.9 L960.9 1394.0 L966.9 1394.0 L972.9 1394.1 L979.0 1394.2 L985.0 1394.3 L991.0 1394.4 L997.0 1394.5 L1003.0 1394.5 L1009.0 1394.6 L1015.1 1394.7 L1021.1 1394.7 L1027.1 1394.8 L1033.1 1394.9 L1039.1 1394.9 L1045.1 1395.0 L1051.1 1395.1 L1057.2 1395.1 L1063.2 1395.2 L1069.2 1395.3 L1075.2 1395.3 L1081.2 1395.4 L1087.2 1395.5 L1093.2 1395.5 L1099.3 1395.6 L1105.3 1395.6 L1111.3 1395.7 L1117.3 1395.7 L1123.3 1395.8 L1129.3 1395.9 L1135.3 1395.9 L1141.4 1396.0 L1147.4 1396.0 L1153.4 1396.1 L1159.4 1396.1 L1165.4 1396.2 L1171.4 1396.2 L1177.5 1396.3 L1183.5 1396.3 L1189.5 1396.4 L1195.5 1396.4 L1201.5 1396.5 L1207.5 1396.5 L1213.5 1396.5 L1219.6 1396.6 L1225.6 1396.6 L1231.6 1396.7 L1237.6 1396.7 L1243.6 1396.7 L1249.6 1396.8 L1255.6 1396.8 L1261.7 1396.8 L1267.7 1396.9 L1273.7 1396.9 L1279.7 1396.9 L1285.7 1396.9 L1291.7 1397.0 L1297.7 1397.0 L1303.8 1397.0 L1309.8 1397.0 L1315.8 1397.1 L1321.8 1397.1 L1327.8 1397.1 L1333.8 1397.1 L1339.9 1397.1 L1345.9 1397.2 L1351.9 1397.2 L1357.9 1397.2 L1363.9 1397.2 L1369.9 1397.3 L1375.9 1397.3 L1382.0 1397.3 L1388.0 1397.3 L1394.0 1397.3 L1400.0 1397.4 L1406.0 1397.4 L1412.0 1397.4 L1418.0 1397.4 L1424.1 1397.4 L1430.1 1397.5 L1436.1 1397.5 L1442.1 1397.5 L1448.1 1397.5 L1454.1 1397.5 L1460.1 1397.6 L1466.2 1397.6 L1472.2 1397.6 L1478.2 1397.6 L1484.2 1397.6 L1490.2 1397.7 L1496.2 1397.7 L1502.3 1397.7 L1508.3 1397.7 L1514.3 1397.7 L1520.3 1397.7 L1526.3 1397.8 L1532.3 1397.8 L1538.3 1397.8 L1544.4 1397.8 L1550.4 1397.8 L1556.4 1397.8 L1562.4 1397.9 L1568.4 1397.9 L1574.4 1397.9 L1580.4 1397.9 L1586.5 1397.9 L1592.5 1397.9 L1598.5 1398.0 L1604.5 1398.0 L1610.5 1398.0 L1616.5 1398.0 L1622.5 1398.0 L1628.6 1398.0 L1634.6 1398.1 L1640.6 1398.1 L1646.6 1398.1 L1652.6 1398.1 L1658.6 1398.1 L1664.7 1398.1 L1670.7 1398.1 L1676.7 1398.2 L1682.7 1398.2 L1688.7 1398.2 L1694.7 1398.2 L1700.7 1398.2 L1706.8 1398.2 L1712.8 1398.2 L1718.8 1398.2 L1724.8 1398.3 L1730.8 1398.3 L1736.8 1398.3 L1742.8 1398.3 L1748.9 1398.3 L1754.9 1398.3 L1760.9 1398.3 L1766.9 1398.3 L1772.9 1398.3 L1778.9 1398.4 L1784.9 1398.4 L1791.0 1398.4 L1797.0 1398.4 L1803.0 1398.4 L1809.0 1398.4 L1815.0 1398.4 L1821.0 1398.4 L1827.1 1398.4 L1833.1 1398.4 L1839.1 1398.5 L1845.1 1398.5 L1851.1 1398.5 L1857.1 1398.5 L1863.1 1398.5 L1869.2 1398.5 L1875.2 1398.5 L1881.2 1398.5 L1887.2 1398.5 L1893.2 1398.5 L1899.2 1398.5 L1905.2 1398.5 L1911.3 1398.5 L1917.3 1398.5 L1923.3 1398.5 L1929.3 1398.5 L1935.3 1398.6 L1941.3 1398.6 L1947.3 1398.6 L1953.4 1398.6 L1959.4 1398.6 L1965.4 1398.6 L1971.4 1398.6 L1977.4 1398.6 L1983.4 1398.6 L1989.5 1398.6 L1995.5 1398.6 L2001.5 1398.6 L2007.5 1398.6 L2013.5 1398.6 L2019.5 1398.6 L2025.5 1398.6 L2031.6 1398.6 L2037.6 1398.6 L2043.6 1398.6 L2049.6 1398.6" fill="none" stroke="#f26a1a" stroke-width="4.6" stroke-linejoin="round"/>
<path d="M263.2 1384.0 L269.2 1385.1 L275.2 1386.2 L281.2 1387.2 L287.3 1388.1 L293.3 1388.7 L299.3 1389.0 L305.3 1389.0 L311.3 1389.0 L317.3 1389.0 L323.3 1388.9 L329.4 1388.9 L335.4 1388.8 L341.4 1388.7 L347.4 1388.7 L353.4 1388.6 L359.4 1388.5 L365.5 1388.5 L371.5 1388.4 L377.5 1388.3 L383.5 1388.2 L389.5 1388.1 L395.5 1388.1 L401.5 1388.0 L407.6 1387.9 L413.6 1387.8 L419.6 1387.7 L425.6 1387.6 L431.6 1387.5 L437.6 1387.4 L443.6 1387.3 L449.7 1387.2 L455.7 1387.1 L461.7 1387.0 L467.7 1387.0 L473.7 1386.9 L479.7 1386.8 L485.7 1386.7 L491.8 1386.7 L497.8 1386.6 L503.8 1386.5 L509.8 1386.4 L515.8 1386.4 L521.8 1386.3 L527.9 1386.3 L533.9 1386.2 L539.9 1386.2 L545.9 1386.2 L551.9 1386.2 L557.9 1386.2 L563.9 1386.2 L570.0 1386.2 L576.0 1386.2 L582.0 1386.2 L588.0 1386.3 L594.0 1386.3 L600.0 1386.3 L606.0 1386.3 L612.1 1386.3 L618.1 1386.4 L624.1 1386.4 L630.1 1386.4 L636.1 1386.4 L642.1 1386.5 L648.1 1386.5 L654.2 1386.5 L660.2 1386.6 L666.2 1386.6 L672.2 1386.6 L678.2 1386.7 L684.2 1386.7 L690.3 1386.7 L696.3 1386.8 L702.3 1386.8 L708.3 1386.9 L714.3 1386.9 L720.3 1387.0 L726.3 1387.0 L732.4 1387.1 L738.4 1387.2 L744.4 1387.2 L750.4 1387.3 L756.4 1387.4 L762.4 1387.5 L768.4 1387.6 L774.5 1387.7 L780.5 1387.8 L786.5 1387.9 L792.5 1388.0 L798.5 1388.1 L804.5 1388.2 L810.5 1388.3 L816.6 1388.4 L822.6 1388.5 L828.6 1388.6 L834.6 1388.7 L840.6 1388.8 L846.6 1388.9 L852.7 1389.0 L858.7 1389.2 L864.7 1389.3 L870.7 1389.4 L876.7 1389.5 L882.7 1389.6 L888.7 1389.7 L894.8 1389.9 L900.8 1390.0 L906.8 1390.1 L912.8 1390.2 L918.8 1390.4 L924.8 1390.5 L930.8 1390.6 L936.9 1390.8 L942.9 1390.9 L948.9 1391.0 L954.9 1391.1 L960.9 1391.3 L966.9 1391.4 L972.9 1391.5 L979.0 1391.6 L985.0 1391.7 L991.0 1391.8 L997.0 1392.0 L1003.0 1392.0 L1009.0 1392.1 L1015.1 1392.2 L1021.1 1392.3 L1027.1 1392.4 L1033.1 1392.5 L1039.1 1392.6 L1045.1 1392.7 L1051.1 1392.8 L1057.2 1392.9 L1063.2 1393.0 L1069.2 1393.1 L1075.2 1393.2 L1081.2 1393.3 L1087.2 1393.4 L1093.2 1393.5 L1099.3 1393.6 L1105.3 1393.7 L1111.3 1393.8 L1117.3 1393.9 L1123.3 1394.0 L1129.3 1394.1 L1135.3 1394.2 L1141.4 1394.3 L1147.4 1394.4 L1153.4 1394.4 L1159.4 1394.5 L1165.4 1394.6 L1171.4 1394.7 L1177.5 1394.8 L1183.5 1394.8 L1189.5 1394.9 L1195.5 1395.0 L1201.5 1395.1 L1207.5 1395.2 L1213.5 1395.2 L1219.6 1395.3 L1225.6 1395.4 L1231.6 1395.4 L1237.6 1395.5 L1243.6 1395.5 L1249.6 1395.6 L1255.6 1395.7 L1261.7 1395.7 L1267.7 1395.8 L1273.7 1395.8 L1279.7 1395.9 L1285.7 1395.9 L1291.7 1395.9 L1297.7 1396.0 L1303.8 1396.0 L1309.8 1396.1 L1315.8 1396.1 L1321.8 1396.1 L1327.8 1396.2 L1333.8 1396.2 L1339.9 1396.2 L1345.9 1396.3 L1351.9 1396.3 L1357.9 1396.3 L1363.9 1396.4 L1369.9 1396.4 L1375.9 1396.4 L1382.0 1396.5 L1388.0 1396.5 L1394.0 1396.5 L1400.0 1396.6 L1406.0 1396.6 L1412.0 1396.6 L1418.0 1396.7 L1424.1 1396.7 L1430.1 1396.7 L1436.1 1396.8 L1442.1 1396.8 L1448.1 1396.8 L1454.1 1396.9 L1460.1 1396.9 L1466.2 1396.9 L1472.2 1397.0 L1478.2 1397.0 L1484.2 1397.0 L1490.2 1397.1 L1496.2 1397.1 L1502.3 1397.1 L1508.3 1397.1 L1514.3 1397.2 L1520.3 1397.2 L1526.3 1397.2 L1532.3 1397.3 L1538.3 1397.3 L1544.4 1397.3 L1550.4 1397.3 L1556.4 1397.4 L1562.4 1397.4 L1568.4 1397.4 L1574.4 1397.5 L1580.4 1397.5 L1586.5 1397.5 L1592.5 1397.5 L1598.5 1397.6 L1604.5 1397.6 L1610.5 1397.6 L1616.5 1397.6 L1622.5 1397.7 L1628.6 1397.7 L1634.6 1397.7 L1640.6 1397.7 L1646.6 1397.8 L1652.6 1397.8 L1658.6 1397.8 L1664.7 1397.8 L1670.7 1397.8 L1676.7 1397.9 L1682.7 1397.9 L1688.7 1397.9 L1694.7 1397.9 L1700.7 1398.0 L1706.8 1398.0 L1712.8 1398.0 L1718.8 1398.0 L1724.8 1398.0 L1730.8 1398.1 L1736.8 1398.1 L1742.8 1398.1 L1748.9 1398.1 L1754.9 1398.1 L1760.9 1398.2 L1766.9 1398.2 L1772.9 1398.2 L1778.9 1398.2 L1784.9 1398.2 L1791.0 1398.2 L1797.0 1398.3 L1803.0 1398.3 L1809.0 1398.3 L1815.0 1398.3 L1821.0 1398.3 L1827.1 1398.3 L1833.1 1398.3 L1839.1 1398.4 L1845.1 1398.4 L1851.1 1398.4 L1857.1 1398.4 L1863.1 1398.4 L1869.2 1398.4 L1875.2 1398.4 L1881.2 1398.4 L1887.2 1398.5 L1893.2 1398.5 L1899.2 1398.5 L1905.2 1398.5 L1911.3 1398.5 L1917.3 1398.5 L1923.3 1398.5 L1929.3 1398.5 L1935.3 1398.5 L1941.3 1398.5 L1947.3 1398.5 L1953.4 1398.5 L1959.4 1398.6 L1965.4 1398.6 L1971.4 1398.6 L1977.4 1398.6 L1983.4 1398.6 L1989.5 1398.6 L1995.5 1398.6 L2001.5 1398.6 L2007.5 1398.6 L2013.5 1398.6 L2019.5 1398.6 L2025.5 1398.6 L2031.6 1398.6 L2037.6 1398.6 L2043.6 1398.6 L2049.6 1398.6" fill="none" stroke="#b38fd1" stroke-width="5.0" stroke-linejoin="round"/>
<path d="M400.0 1384.5 L406.1 1384.4 L412.2 1384.3 L418.3 1384.3 L424.3 1384.2 L430.4 1384.1 L436.5 1384.1 L442.6 1384.0 L448.7 1383.9 L454.8 1383.9 L460.9 1383.8 L467.0 1383.8 L473.0 1383.8 L479.1 1383.8 L485.2 1383.7 L491.3 1383.7 L497.4 1383.7 L503.5 1383.7 L509.6 1383.7 L515.7 1383.6 L521.7 1383.6 L527.8 1383.6 L533.9 1383.6 L540.0 1383.6 L546.1 1383.6 L552.2 1383.6 L558.3 1383.6 L564.3 1383.6 L570.4 1383.7 L576.5 1383.7 L582.6 1383.7 L588.7 1383.8 L594.8 1383.8 L600.9 1383.8 L607.0 1383.9 L613.0 1383.9 L619.1 1384.0 L625.2 1384.0 L631.3 1384.1 L637.4 1384.2 L643.5 1384.3 L649.6 1384.4 L655.7 1384.5 L661.7 1384.6 L667.8 1384.7 L673.9 1384.9 L680.0 1385.0" fill="none" stroke="#eef0f4" stroke-width="3.2" stroke-linejoin="round"/>
<path d="M300.0 1386.0 L306.0 1385.9 L312.0 1385.8 L318.0 1385.6 L324.0 1385.5 L330.1 1385.3 L336.1 1385.1 L342.1 1384.8 L348.1 1384.6 L354.1 1384.3 L360.1 1384.0 L366.1 1383.7 L372.1 1383.4 L378.2 1383.1 L384.2 1382.8 L390.2 1382.4 L396.2 1381.9 L402.2 1381.4 L408.2 1380.8 L414.2 1380.2 L420.2 1379.6 L426.3 1379.0 L432.3 1378.5 L438.3 1377.9 L444.3 1377.4 L450.3 1377.0 L456.3 1376.6 L462.3 1376.1 L468.3 1375.7 L474.4 1375.3 L480.4 1374.9 L486.4 1374.6 L492.4 1374.3 L498.4 1374.1 L504.4 1373.9 L510.4 1373.7 L516.4 1373.5 L522.5 1373.3 L528.5 1373.2 L534.5 1373.1 L540.5 1373.0 L546.5 1373.0 L552.5 1373.0 L558.5 1373.0 L564.5 1373.1 L570.6 1373.2 L576.6 1373.2 L582.6 1373.3 L588.6 1373.4 L594.6 1373.5 L600.6 1373.6 L606.6 1373.7 L612.6 1373.9 L618.7 1374.1 L624.7 1374.4 L630.7 1374.6 L636.7 1374.9 L642.7 1375.2 L648.7 1375.5 L654.7 1375.8 L660.7 1376.0 L666.8 1376.3 L672.8 1376.6 L678.8 1376.9 L684.8 1377.2 L690.8 1377.5 L696.8 1377.8 L702.8 1378.1 L708.8 1378.4 L714.9 1378.7 L720.9 1379.0 L726.9 1379.3 L732.9 1379.6 L738.9 1379.9 L744.9 1380.3 L750.9 1380.6 L756.9 1380.9 L763.0 1381.1 L769.0 1381.4 L775.0 1381.7 L781.0 1382.0 L787.0 1382.3 L793.0 1382.6 L799.0 1382.9 L805.0 1383.2 L811.1 1383.5 L817.1 1383.8 L823.1 1384.1 L829.1 1384.4 L835.1 1384.7 L841.1 1385.0 L847.1 1385.3 L853.1 1385.6 L859.2 1385.9 L865.2 1386.1 L871.2 1386.4 L877.2 1386.6 L883.2 1386.9 L889.2 1387.1 L895.2 1387.3 L901.2 1387.5 L907.2 1387.8 L913.3 1388.0 L919.3 1388.2 L925.3 1388.4 L931.3 1388.6 L937.3 1388.8 L943.3 1389.0 L949.3 1389.2 L955.3 1389.4 L961.4 1389.6 L967.4 1389.8 L973.4 1390.0 L979.4 1390.2 L985.4 1390.4 L991.4 1390.6 L997.4 1390.8 L1003.4 1390.9 L1009.5 1391.1 L1015.5 1391.3 L1021.5 1391.5 L1027.5 1391.6 L1033.5 1391.8 L1039.5 1391.9 L1045.5 1392.1 L1051.5 1392.2 L1057.6 1392.3 L1063.6 1392.4 L1069.6 1392.5 L1075.6 1392.7 L1081.6 1392.8 L1087.6 1392.8 L1093.6 1392.9 L1099.6 1393.0 L1105.7 1393.1 L1111.7 1393.1 L1117.7 1393.2 L1123.7 1393.3 L1129.7 1393.3 L1135.7 1393.4 L1141.7 1393.5 L1147.7 1393.5 L1153.8 1393.6 L1159.8 1393.7 L1165.8 1393.7 L1171.8 1393.8 L1177.8 1393.8 L1183.8 1393.9 L1189.8 1394.0 L1195.8 1394.0 L1201.9 1394.1 L1207.9 1394.2 L1213.9 1394.2 L1219.9 1394.3 L1225.9 1394.3 L1231.9 1394.4 L1237.9 1394.5 L1243.9 1394.5 L1250.0 1394.6 L1256.0 1394.6 L1262.0 1394.7 L1268.0 1394.7 L1274.0 1394.8 L1280.0 1394.9 L1286.0 1394.9 L1292.0 1395.0 L1298.1 1395.0 L1304.1 1395.1 L1310.1 1395.1 L1316.1 1395.2 L1322.1 1395.2 L1328.1 1395.3 L1334.1 1395.4 L1340.1 1395.4 L1346.2 1395.5 L1352.2 1395.5 L1358.2 1395.6 L1364.2 1395.6 L1370.2 1395.7 L1376.2 1395.7 L1382.2 1395.8 L1388.2 1395.8 L1394.3 1395.9 L1400.3 1395.9 L1406.3 1396.0 L1412.3 1396.0 L1418.3 1396.1 L1424.3 1396.1 L1430.3 1396.1 L1436.3 1396.2 L1442.4 1396.2 L1448.4 1396.3 L1454.4 1396.3 L1460.4 1396.4 L1466.4 1396.4 L1472.4 1396.5 L1478.4 1396.5 L1484.4 1396.5 L1490.4 1396.6 L1496.5 1396.6 L1502.5 1396.7 L1508.5 1396.7 L1514.5 1396.8 L1520.5 1396.8 L1526.5 1396.8 L1532.5 1396.9 L1538.5 1396.9 L1544.6 1397.0 L1550.6 1397.0 L1556.6 1397.0 L1562.6 1397.1 L1568.6 1397.1 L1574.6 1397.1 L1580.6 1397.2 L1586.6 1397.2 L1592.7 1397.2 L1598.7 1397.3 L1604.7 1397.3 L1610.7 1397.3 L1616.7 1397.4 L1622.7 1397.4 L1628.7 1397.4 L1634.7 1397.5 L1640.8 1397.5 L1646.8 1397.5 L1652.8 1397.6 L1658.8 1397.6 L1664.8 1397.6 L1670.8 1397.7 L1676.8 1397.7 L1682.8 1397.7 L1688.9 1397.7 L1694.9 1397.8 L1700.9 1397.8 L1706.9 1397.8 L1712.9 1397.9 L1718.9 1397.9 L1724.9 1397.9 L1730.9 1397.9 L1737.0 1398.0 L1743.0 1398.0 L1749.0 1398.0 L1755.0 1398.0 L1761.0 1398.1 L1767.0 1398.1 L1773.0 1398.1 L1779.0 1398.1 L1785.1 1398.1 L1791.1 1398.2 L1797.1 1398.2 L1803.1 1398.2 L1809.1 1398.2 L1815.1 1398.2 L1821.1 1398.3 L1827.1 1398.3 L1833.2 1398.3 L1839.2 1398.3 L1845.2 1398.3 L1851.2 1398.3 L1857.2 1398.4 L1863.2 1398.4 L1869.2 1398.4 L1875.2 1398.4 L1881.3 1398.4 L1887.3 1398.4 L1893.3 1398.4 L1899.3 1398.4 L1905.3 1398.5 L1911.3 1398.5 L1917.3 1398.5 L1923.3 1398.5 L1929.4 1398.5 L1935.4 1398.5 L1941.4 1398.5 L1947.4 1398.5 L1953.4 1398.5 L1959.4 1398.5 L1965.4 1398.6 L1971.4 1398.6 L1977.5 1398.6 L1983.5 1398.6 L1989.5 1398.6 L1995.5 1398.6 L2001.5 1398.6 L2007.5 1398.6 L2013.5 1398.6 L2019.5 1398.6 L2025.6 1398.6 L2031.6 1398.6 L2037.6 1398.6 L2043.6 1398.6 L2049.6 1398.6" fill="none" stroke="#b39bd3" stroke-width="4.5" stroke-linejoin="round"/>
<path d="M300.0 1386.0 L306.0 1385.9 L312.0 1385.8 L318.0 1385.7 L324.0 1385.6 L330.1 1385.4 L336.1 1385.2 L342.1 1385.0 L348.1 1384.8 L354.1 1384.5 L360.1 1384.3 L366.1 1384.0 L372.1 1383.8 L378.2 1383.5 L384.2 1383.2 L390.2 1382.8 L396.2 1382.4 L402.2 1381.9 L408.2 1381.4 L414.2 1380.9 L420.2 1380.4 L426.3 1379.9 L432.3 1379.3 L438.3 1378.9 L444.3 1378.4 L450.3 1378.0 L456.3 1377.6 L462.3 1377.2 L468.3 1376.8 L474.4 1376.4 L480.4 1376.1 L486.4 1375.8 L492.4 1375.5 L498.4 1375.3 L504.4 1375.1 L510.4 1374.9 L516.4 1374.7 L522.5 1374.5 L528.5 1374.4 L534.5 1374.3 L540.5 1374.2 L546.5 1374.2 L552.5 1374.2 L558.5 1374.2 L564.5 1374.3 L570.6 1374.3 L576.6 1374.4 L582.6 1374.4 L588.6 1374.5 L594.6 1374.5 L600.6 1374.6 L606.6 1374.7 L612.6 1374.8 L618.7 1375.0 L624.7 1375.2 L630.7 1375.4 L636.7 1375.7 L642.7 1375.9 L648.7 1376.1 L654.7 1376.4 L660.7 1376.6 L666.8 1376.9 L672.8 1377.1 L678.8 1377.4 L684.8 1377.7 L690.8 1378.0 L696.8 1378.2 L702.8 1378.5 L708.8 1378.8 L714.9 1379.2 L720.9 1379.5 L726.9 1379.8 L732.9 1380.1 L738.9 1380.4 L744.9 1380.7 L750.9 1381.0 L756.9 1381.3 L763.0 1381.5 L769.0 1381.8 L775.0 1382.1 L781.0 1382.4 L787.0 1382.7 L793.0 1383.0 L799.0 1383.4 L805.0 1383.7 L811.1 1384.0 L817.1 1384.3 L823.1 1384.6 L829.1 1384.9 L835.1 1385.2 L841.1 1385.5 L847.1 1385.8 L853.1 1386.1 L859.2 1386.3 L865.2 1386.6 L871.2 1386.8 L877.2 1387.0 L883.2 1387.2 L889.2 1387.4 L895.2 1387.5 L901.2 1387.6 L907.2 1387.7 L913.3 1387.8 L919.3 1388.0 L925.3 1388.1 L931.3 1388.2 L937.3 1388.3 L943.3 1388.4 L949.3 1388.5 L955.3 1388.6 L961.4 1388.7 L967.4 1388.8 L973.4 1388.9 L979.4 1389.1 L985.4 1389.2 L991.4 1389.3 L997.4 1389.4 L1003.4 1389.5 L1009.5 1389.6 L1015.5 1389.7 L1021.5 1389.8 L1027.5 1389.9 L1033.5 1390.0 L1039.5 1390.1 L1045.5 1390.2 L1051.5 1390.3 L1057.6 1390.4 L1063.6 1390.5 L1069.6 1390.6 L1075.6 1390.7 L1081.6 1390.8 L1087.6 1390.9 L1093.6 1391.0 L1099.6 1391.1 L1105.7 1391.2 L1111.7 1391.2 L1117.7 1391.3 L1123.7 1391.4 L1129.7 1391.5 L1135.7 1391.6 L1141.7 1391.7 L1147.7 1391.8 L1153.8 1391.9 L1159.8 1392.0 L1165.8 1392.1 L1171.8 1392.2 L1177.8 1392.2 L1183.8 1392.3 L1189.8 1392.4 L1195.8 1392.5 L1201.9 1392.6 L1207.9 1392.7 L1213.9 1392.8 L1219.9 1392.8 L1225.9 1392.9 L1231.9 1393.0 L1237.9 1393.1 L1243.9 1393.2 L1250.0 1393.2 L1256.0 1393.3 L1262.0 1393.4 L1268.0 1393.5 L1274.0 1393.6 L1280.0 1393.6 L1286.0 1393.7 L1292.0 1393.8 L1298.1 1393.9 L1304.1 1393.9 L1310.1 1394.0 L1316.1 1394.1 L1322.1 1394.2 L1328.1 1394.2 L1334.1 1394.3 L1340.1 1394.4 L1346.2 1394.4 L1352.2 1394.5 L1358.2 1394.6 L1364.2 1394.7 L1370.2 1394.7 L1376.2 1394.8 L1382.2 1394.9 L1388.2 1394.9 L1394.3 1395.0 L1400.3 1395.1 L1406.3 1395.1 L1412.3 1395.2 L1418.3 1395.2 L1424.3 1395.3 L1430.3 1395.4 L1436.3 1395.4 L1442.4 1395.5 L1448.4 1395.6 L1454.4 1395.6 L1460.4 1395.7 L1466.4 1395.7 L1472.4 1395.8 L1478.4 1395.9 L1484.4 1395.9 L1490.4 1396.0 L1496.5 1396.0 L1502.5 1396.1 L1508.5 1396.1 L1514.5 1396.2 L1520.5 1396.2 L1526.5 1396.3 L1532.5 1396.3 L1538.5 1396.4 L1544.6 1396.4 L1550.6 1396.5 L1556.6 1396.6 L1562.6 1396.6 L1568.6 1396.6 L1574.6 1396.7 L1580.6 1396.7 L1586.6 1396.8 L1592.7 1396.8 L1598.7 1396.9 L1604.7 1396.9 L1610.7 1397.0 L1616.7 1397.0 L1622.7 1397.1 L1628.7 1397.1 L1634.7 1397.1 L1640.8 1397.2 L1646.8 1397.2 L1652.8 1397.3 L1658.8 1397.3 L1664.8 1397.3 L1670.8 1397.4 L1676.8 1397.4 L1682.8 1397.5 L1688.9 1397.5 L1694.9 1397.5 L1700.9 1397.6 L1706.9 1397.6 L1712.9 1397.6 L1718.9 1397.7 L1724.9 1397.7 L1730.9 1397.7 L1737.0 1397.8 L1743.0 1397.8 L1749.0 1397.8 L1755.0 1397.9 L1761.0 1397.9 L1767.0 1397.9 L1773.0 1398.0 L1779.0 1398.0 L1785.1 1398.0 L1791.1 1398.0 L1797.1 1398.1 L1803.1 1398.1 L1809.1 1398.1 L1815.1 1398.1 L1821.1 1398.2 L1827.1 1398.2 L1833.2 1398.2 L1839.2 1398.2 L1845.2 1398.2 L1851.2 1398.3 L1857.2 1398.3 L1863.2 1398.3 L1869.2 1398.3 L1875.2 1398.3 L1881.3 1398.4 L1887.3 1398.4 L1893.3 1398.4 L1899.3 1398.4 L1905.3 1398.4 L1911.3 1398.4 L1917.3 1398.5 L1923.3 1398.5 L1929.4 1398.5 L1935.4 1398.5 L1941.4 1398.5 L1947.4 1398.5 L1953.4 1398.5 L1959.4 1398.5 L1965.4 1398.5 L1971.4 1398.5 L1977.5 1398.6 L1983.5 1398.6 L1989.5 1398.6 L1995.5 1398.6 L2001.5 1398.6 L2007.5 1398.6 L2013.5 1398.6 L2019.5 1398.6 L2025.6 1398.6 L2031.6 1398.6 L2037.6 1398.6 L2043.6 1398.6 L2049.6 1398.6" fill="none" stroke="#5f8fb4" stroke-width="3.5" stroke-linejoin="round" opacity="0.70"/>
<path d="M263.2 1386.0 L269.2 1386.6 L275.2 1387.1 L281.2 1387.4 L287.3 1387.5 L293.3 1387.5 L299.3 1387.5 L305.3 1387.5 L311.3 1387.5 L317.3 1387.5 L323.3 1387.5 L329.4 1387.4 L335.4 1387.3 L341.4 1387.1 L347.4 1386.9 L353.4 1386.7 L359.4 1386.4 L365.5 1386.2 L371.5 1385.9 L377.5 1385.6 L383.5 1385.3 L389.5 1385.0 L395.5 1384.7 L401.5 1384.3 L407.6 1383.9 L413.6 1383.4 L419.6 1383.0 L425.6 1382.6 L431.6 1382.1 L437.6 1381.7 L443.6 1381.4 L449.7 1381.0 L455.7 1380.7 L461.7 1380.4 L467.7 1380.1 L473.7 1379.8 L479.7 1379.5 L485.7 1379.3 L491.8 1379.0 L497.8 1378.9 L503.8 1378.7 L509.8 1378.6 L515.8 1378.4 L521.8 1378.3 L527.9 1378.2 L533.9 1378.1 L539.9 1378.0 L545.9 1378.0 L551.9 1378.0 L557.9 1378.0 L563.9 1378.1 L570.0 1378.1 L576.0 1378.1 L582.0 1378.2 L588.0 1378.3 L594.0 1378.3 L600.0 1378.4 L606.0 1378.5 L612.1 1378.7 L618.1 1378.8 L624.1 1379.1 L630.1 1379.3 L636.1 1379.5 L642.1 1379.7 L648.1 1379.8 L654.2 1380.0 L660.2 1380.2 L666.2 1380.3 L672.2 1380.5 L678.2 1380.7 L684.2 1380.8 L690.3 1381.0 L696.3 1381.2 L702.3 1381.3 L708.3 1381.5 L714.3 1381.7 L720.3 1381.8 L726.3 1382.0 L732.4 1382.2 L738.4 1382.4 L744.4 1382.5 L750.4 1382.7 L756.4 1382.9 L762.4 1383.1 L768.4 1383.3 L774.5 1383.5 L780.5 1383.7 L786.5 1383.9 L792.5 1384.1 L798.5 1384.3 L804.5 1384.5 L810.5 1384.7 L816.6 1384.9 L822.6 1385.1 L828.6 1385.3 L834.6 1385.5 L840.6 1385.7 L846.6 1385.9 L852.7 1386.1 L858.7 1386.3 L864.7 1386.5 L870.7 1386.7 L876.7 1386.8 L882.7 1387.0 L888.7 1387.2 L894.8 1387.4 L900.8 1387.6 L906.8 1387.8 L912.8 1387.9 L918.8 1388.1 L924.8 1388.3 L930.8 1388.5 L936.9 1388.6 L942.9 1388.8 L948.9 1389.0 L954.9 1389.1 L960.9 1389.3 L966.9 1389.5 L972.9 1389.6 L979.0 1389.8 L985.0 1390.0 L991.0 1390.1 L997.0 1390.3 L1003.0 1390.4 L1009.0 1390.6 L1015.1 1390.8 L1021.1 1390.9 L1027.1 1391.1 L1033.1 1391.2 L1039.1 1391.3 L1045.1 1391.5 L1051.1 1391.6 L1057.2 1391.7 L1063.2 1391.9 L1069.2 1392.0 L1075.2 1392.1 L1081.2 1392.2 L1087.2 1392.3 L1093.2 1392.5 L1099.3 1392.6 L1105.3 1392.7 L1111.3 1392.8 L1117.3 1392.9 L1123.3 1393.0 L1129.3 1393.1 L1135.3 1393.2 L1141.4 1393.3 L1147.4 1393.4 L1153.4 1393.5 L1159.4 1393.6 L1165.4 1393.7 L1171.4 1393.8 L1177.5 1393.9 L1183.5 1394.0 L1189.5 1394.1 L1195.5 1394.2 L1201.5 1394.3 L1207.5 1394.4 L1213.5 1394.5 L1219.6 1394.6 L1225.6 1394.7 L1231.6 1394.7 L1237.6 1394.8 L1243.6 1394.9 L1249.6 1395.0 L1255.6 1395.1 L1261.7 1395.2 L1267.7 1395.2 L1273.7 1395.3 L1279.7 1395.4 L1285.7 1395.5 L1291.7 1395.6 L1297.7 1395.6 L1303.8 1395.7 L1309.8 1395.8 L1315.8 1395.9 L1321.8 1395.9 L1327.8 1396.0 L1333.8 1396.1 L1339.9 1396.2 L1345.9 1396.2 L1351.9 1396.3 L1357.9 1396.4 L1363.9 1396.4 L1369.9 1396.5 L1375.9 1396.6 L1382.0 1396.6 L1388.0 1396.7 L1394.0 1396.8 L1400.0 1396.8 L1406.0 1396.9 L1412.0 1396.9 L1418.0 1397.0 L1424.1 1397.0 L1430.1 1397.1 L1436.1 1397.1 L1442.1 1397.2 L1448.1 1397.2 L1454.1 1397.3 L1460.1 1397.3 L1466.2 1397.3 L1472.2 1397.4 L1478.2 1397.4 L1484.2 1397.4 L1490.2 1397.5 L1496.2 1397.5 L1502.3 1397.5 L1508.3 1397.6 L1514.3 1397.6 L1520.3 1397.6 L1526.3 1397.7 L1532.3 1397.7 L1538.3 1397.7 L1544.4 1397.8 L1550.4 1397.8 L1556.4 1397.8 L1562.4 1397.8 L1568.4 1397.9 L1574.4 1397.9 L1580.4 1397.9 L1586.5 1398.0 L1592.5 1398.0 L1598.5 1398.0 L1604.5 1398.0 L1610.5 1398.0 L1616.5 1398.1 L1622.5 1398.1 L1628.6 1398.1 L1634.6 1398.1 L1640.6 1398.2 L1646.6 1398.2 L1652.6 1398.2 L1658.6 1398.2 L1664.7 1398.2 L1670.7 1398.2 L1676.7 1398.3 L1682.7 1398.3 L1688.7 1398.3 L1694.7 1398.3 L1700.7 1398.3 L1706.8 1398.3 L1712.8 1398.3 L1718.8 1398.3 L1724.8 1398.3 L1730.8 1398.4 L1736.8 1398.4 L1742.8 1398.4 L1748.9 1398.4 L1754.9 1398.4 L1760.9 1398.4 L1766.9 1398.4 L1772.9 1398.4 L1778.9 1398.4 L1784.9 1398.4 L1791.0 1398.5 L1797.0 1398.5 L1803.0 1398.5 L1809.0 1398.5 L1815.0 1398.5 L1821.0 1398.5 L1827.1 1398.5 L1833.1 1398.5 L1839.1 1398.5 L1845.1 1398.5 L1851.1 1398.6 L1857.1 1398.6 L1863.1 1398.6 L1869.2 1398.6 L1875.2 1398.6 L1881.2 1398.6 L1887.2 1398.6 L1893.2 1398.6 L1899.2 1398.6 L1905.2 1398.6 L1911.3 1398.6 L1917.3 1398.6 L1923.3 1398.6 L1929.3 1398.6 L1935.3 1398.6 L1941.3 1398.7 L1947.3 1398.7 L1953.4 1398.7 L1959.4 1398.7 L1965.4 1398.7 L1971.4 1398.7 L1977.4 1398.7 L1983.4 1398.7 L1989.5 1398.7 L1995.5 1398.7 L2001.5 1398.7 L2007.5 1398.7 L2013.5 1398.7 L2019.5 1398.7 L2025.5 1398.7 L2031.6 1398.7 L2037.6 1398.7 L2043.6 1398.7 L2049.6 1398.7" fill="none" stroke="#8b5263" stroke-width="6.6" stroke-linejoin="round"/>
<path d="M263.2 1376.0 L269.2 1377.7 L275.2 1379.2 L281.2 1380.2 L287.3 1381.0 L293.3 1381.7 L299.3 1382.0 L305.3 1382.0 L311.3 1382.0 L317.3 1382.0 L323.3 1381.8 L329.4 1381.0 L335.4 1379.6 L341.4 1378.3 L347.4 1376.7 L353.4 1374.8 L359.4 1372.7 L365.5 1370.6 L371.5 1368.6 L377.5 1366.5 L383.5 1364.3 L389.5 1362.2 L395.5 1360.1 L401.5 1358.1 L407.6 1356.1 L413.6 1354.1 L419.6 1352.3 L425.6 1350.5 L431.6 1348.8 L437.6 1347.2 L443.6 1345.6 L449.7 1344.2 L455.7 1343.0 L461.7 1341.8 L467.7 1340.7 L473.7 1339.7 L479.7 1338.9 L485.7 1338.3 L491.8 1337.7 L497.8 1337.2 L503.8 1336.7 L509.8 1336.4 L515.8 1336.2 L521.8 1336.1 L527.9 1335.9 L533.9 1335.8 L539.9 1335.8 L545.9 1335.8 L551.9 1335.9 L557.9 1336.0 L563.9 1336.1 L570.0 1336.3 L576.0 1336.5 L582.0 1336.7 L588.0 1337.0 L594.0 1337.4 L600.0 1337.9 L606.0 1338.5 L612.1 1339.0 L618.1 1339.6 L624.1 1340.2 L630.1 1340.8 L636.1 1341.4 L642.1 1342.0 L648.1 1342.5 L654.2 1343.0 L660.2 1343.5 L666.2 1343.9 L672.2 1344.4 L678.2 1344.8 L684.2 1345.3 L690.3 1345.7 L696.3 1346.2 L702.3 1346.7 L708.3 1347.2 L714.3 1347.7 L720.3 1348.2 L726.3 1348.7 L732.4 1349.3 L738.4 1349.8 L744.4 1350.3 L750.4 1350.9 L756.4 1351.4 L762.4 1351.9 L768.4 1352.5 L774.5 1353.0 L780.5 1353.5 L786.5 1354.1 L792.5 1354.6 L798.5 1355.1 L804.5 1355.6 L810.5 1356.2 L816.6 1356.7 L822.6 1357.2 L828.6 1357.8 L834.6 1358.3 L840.6 1358.8 L846.6 1359.4 L852.7 1359.9 L858.7 1360.5 L864.7 1361.1 L870.7 1361.7 L876.7 1362.3 L882.7 1362.9 L888.7 1363.5 L894.8 1364.1 L900.8 1364.7 L906.8 1365.3 L912.8 1365.9 L918.8 1366.5 L924.8 1367.1 L930.8 1367.7 L936.9 1368.2 L942.9 1368.8 L948.9 1369.4 L954.9 1370.0 L960.9 1370.5 L966.9 1371.1 L972.9 1371.7 L979.0 1372.3 L985.0 1372.9 L991.0 1373.4 L997.0 1374.0 L1003.0 1374.6 L1009.0 1375.2 L1015.1 1375.7 L1021.1 1376.3 L1027.1 1376.8 L1033.1 1377.3 L1039.1 1377.8 L1045.1 1378.2 L1051.1 1378.7 L1057.2 1379.1 L1063.2 1379.5 L1069.2 1379.9 L1075.2 1380.2 L1081.2 1380.6 L1087.2 1380.9 L1093.2 1381.3 L1099.3 1381.6 L1105.3 1381.9 L1111.3 1382.2 L1117.3 1382.5 L1123.3 1382.8 L1129.3 1383.1 L1135.3 1383.3 L1141.4 1383.6 L1147.4 1383.9 L1153.4 1384.1 L1159.4 1384.4 L1165.4 1384.7 L1171.4 1384.9 L1177.5 1385.1 L1183.5 1385.4 L1189.5 1385.6 L1195.5 1385.8 L1201.5 1386.1 L1207.5 1386.3 L1213.5 1386.5 L1219.6 1386.7 L1225.6 1386.9 L1231.6 1387.2 L1237.6 1387.4 L1243.6 1387.6 L1249.6 1387.8 L1255.6 1388.0 L1261.7 1388.2 L1267.7 1388.4 L1273.7 1388.6 L1279.7 1388.8 L1285.7 1389.0 L1291.7 1389.2 L1297.7 1389.4 L1303.8 1389.6 L1309.8 1389.8 L1315.8 1390.0 L1321.8 1390.2 L1327.8 1390.4 L1333.8 1390.5 L1339.9 1390.7 L1345.9 1390.9 L1351.9 1391.1 L1357.9 1391.2 L1363.9 1391.4 L1369.9 1391.5 L1375.9 1391.7 L1382.0 1391.9 L1388.0 1392.0 L1394.0 1392.2 L1400.0 1392.3 L1406.0 1392.5 L1412.0 1392.6 L1418.0 1392.8 L1424.1 1392.9 L1430.1 1393.1 L1436.1 1393.2 L1442.1 1393.3 L1448.1 1393.5 L1454.1 1393.6 L1460.1 1393.7 L1466.2 1393.8 L1472.2 1393.9 L1478.2 1394.1 L1484.2 1394.2 L1490.2 1394.3 L1496.2 1394.4 L1502.3 1394.5 L1508.3 1394.6 L1514.3 1394.7 L1520.3 1394.8 L1526.3 1394.9 L1532.3 1395.0 L1538.3 1395.1 L1544.4 1395.2 L1550.4 1395.3 L1556.4 1395.4 L1562.4 1395.5 L1568.4 1395.6 L1574.4 1395.7 L1580.4 1395.8 L1586.5 1395.8 L1592.5 1395.9 L1598.5 1396.0 L1604.5 1396.0 L1610.5 1396.1 L1616.5 1396.2 L1622.5 1396.2 L1628.6 1396.3 L1634.6 1396.4 L1640.6 1396.4 L1646.6 1396.5 L1652.6 1396.5 L1658.6 1396.6 L1664.7 1396.7 L1670.7 1396.7 L1676.7 1396.8 L1682.7 1396.8 L1688.7 1396.9 L1694.7 1396.9 L1700.7 1397.0 L1706.8 1397.0 L1712.8 1397.1 L1718.8 1397.1 L1724.8 1397.1 L1730.8 1397.2 L1736.8 1397.2 L1742.8 1397.3 L1748.9 1397.3 L1754.9 1397.4 L1760.9 1397.4 L1766.9 1397.4 L1772.9 1397.5 L1778.9 1397.5 L1784.9 1397.5 L1791.0 1397.6 L1797.0 1397.6 L1803.0 1397.6 L1809.0 1397.6 L1815.0 1397.7 L1821.0 1397.7 L1827.1 1397.7 L1833.1 1397.8 L1839.1 1397.8 L1845.1 1397.8 L1851.1 1397.8 L1857.1 1397.9 L1863.1 1397.9 L1869.2 1397.9 L1875.2 1397.9 L1881.2 1398.0 L1887.2 1398.0 L1893.2 1398.0 L1899.2 1398.0 L1905.2 1398.1 L1911.3 1398.1 L1917.3 1398.1 L1923.3 1398.1 L1929.3 1398.1 L1935.3 1398.2 L1941.3 1398.2 L1947.3 1398.2 L1953.4 1398.2 L1959.4 1398.2 L1965.4 1398.3 L1971.4 1398.3 L1977.4 1398.3 L1983.4 1398.3 L1989.5 1398.3 L1995.5 1398.3 L2001.5 1398.3 L2007.5 1398.4 L2013.5 1398.4 L2019.5 1398.4 L2025.5 1398.4 L2031.6 1398.4 L2037.6 1398.4 L2043.6 1398.4 L2049.6 1398.4" fill="none" stroke="#8e9a12" stroke-width="6.2" stroke-linejoin="round"/>
<path d="M263.2 1368.0 L269.5 1374.0 L275.7 1378.6 L282.0 1382.0" fill="none" stroke="#7fb81c" stroke-width="5.0" stroke-linejoin="round"/>
<path d="M263.2 1256.7 L266.2 1253.3 L269.2 1249.4 L272.2 1245.0 L275.2 1240.1 L278.2 1234.8 L281.2 1228.9 L284.2 1222.7 L287.2 1215.9 L290.2 1208.7 L293.2 1201.1 L296.2 1193.0 L299.2 1184.4 L302.2 1175.4 L305.2 1166.0 L308.2 1156.2 L311.2 1146.0 L314.2 1135.3 L317.2 1124.2 L320.2 1112.7 L323.2 1100.9 L326.2 1088.6 L329.3 1075.9 L332.3 1062.8 L335.3 1049.4 L338.3 1035.6 L341.3 1021.4 L344.3 1006.7 L347.3 991.7 L350.3 976.3 L353.3 960.4 L356.3 944.1 L359.3 927.3 L362.3 910.2 L365.3 892.8 L368.3 875.3 L371.3 857.7 L374.3 840.1 L377.3 822.5 L380.3 804.8 L383.3 786.8 L386.3 768.6 L389.3 750.2 L392.3 731.8 L395.3 713.4 L398.3 695.2 L401.3 677.1 L404.3 659.5 L407.3 642.3 L410.3 625.6 L413.3 609.2 L416.3 593.2 L419.3 577.5 L422.3 561.9 L425.3 546.5 L428.3 531.0 L431.3 515.6 L434.3 500.1 L437.3 484.3 L440.3 468.5 L443.3 452.5 L446.3 436.6 L449.3 420.6 L452.3 404.8 L455.4 389.0 L458.4 373.5 L461.4 358.2 L464.4 343.3 L467.4 328.8 L470.4 314.9 L473.4 301.8 L476.4 289.4 L479.4 277.9 L482.4 267.3 L485.4 257.5 L488.4 248.2 L491.4 239.5 L494.4 231.3 L497.4 223.4 L500.4 215.7 L503.4 208.2 L506.4 200.7 L509.4 193.3 L512.4 186.2 L515.4 179.5 L518.4 173.4 L521.4 168.0 L524.4 163.5 L527.4 160.0 L530.4 157.4 L533.4 155.6 L536.4 154.6 L539.4 154.0 L542.4 153.9 L545.4 154.0 L548.4 154.3 L551.4 154.8 L554.4 155.4 L557.4 156.1 L560.4 156.7 L563.4 157.5 L566.4 158.5 L569.4 160.1 L572.4 162.5 L575.4 165.5 L578.4 169.2 L581.4 173.6 L584.5 178.5 L587.5 184.0 L590.5 189.8 L593.5 195.9 L596.5 202.1 L599.5 208.1 L602.5 213.9 L605.5 219.3 L608.5 224.4 L611.5 229.3 L614.5 234.1 L617.5 239.0 L620.5 244.2 L623.5 249.7 L626.5 255.7 L629.5 262.2 L632.5 269.2 L635.5 276.6 L638.5 284.5 L641.5 292.9 L644.5 301.6 L647.5 310.4 L650.5 319.3 L653.5 328.0 L656.5 336.6 L659.5 344.9 L662.5 353.0 L665.5 360.9 L668.5 368.7 L671.5 376.3 L674.5 383.8 L677.5 391.2 L680.5 398.5 L683.5 405.8 L686.5 413.1 L689.5 420.3 L692.5 427.5 L695.5 434.7 L698.5 441.9 L701.5 449.0 L704.5 456.0 L707.5 463.1 L710.6 470.0 L713.6 477.0 L716.6 483.8 L719.6 490.6 L722.6 497.4 L725.6 504.1 L728.6 510.7 L731.6 517.2 L734.6 523.7 L737.6 530.1 L740.6 536.4 L743.6 542.7 L746.6 548.9 L749.6 555.0 L752.6 561.1 L755.6 567.0 L758.6 573.0 L761.6 578.8 L764.6 584.6 L767.6 590.4 L770.6 596.0 L773.6 601.6 L776.6 607.2 L779.6 612.7 L782.6 618.1 L785.6 623.5 L788.6 628.8 L791.6 634.1 L794.6 639.3 L797.6 644.5 L800.6 649.6 L803.6 654.6 L806.6 659.6 L809.6 664.6 L812.6 669.5 L815.6 674.3 L818.6 679.1 L821.6 683.9 L824.6 688.6 L827.6 693.2 L830.6 697.8 L833.6 702.4 L836.6 707.0 L839.7 711.5 L842.7 715.9 L845.7 720.4 L848.7 724.8 L851.7 729.2 L854.7 733.6 L857.7 738.0 L860.7 742.4 L863.7 746.7 L866.7 751.1 L869.7 755.5 L872.7 759.9 L875.7 764.4 L878.7 768.8 L881.7 773.3 L884.7 777.8 L887.7 782.3 L890.7 786.9 L893.7 791.5 L896.7 796.1 L899.7 800.8 L902.7 805.5 L905.7 810.2 L908.7 815.0 L911.7 819.8 L914.7 824.6 L917.7 829.5 L920.7 834.3 L923.7 839.2 L926.7 844.1 L929.7 849.0 L932.7 853.9 L935.7 858.8 L938.7 863.7 L941.7 868.6 L944.7 873.5 L947.7 878.4 L950.7 883.3 L953.7 888.2 L956.7 893.1 L959.7 898.0 L962.7 902.8 L965.8 907.7 L968.8 912.5 L971.8 917.3 L974.8 922.1 L977.8 926.9 L980.8 931.7 L983.8 936.4 L986.8 941.2 L989.8 945.9 L992.8 950.6 L995.8 955.3 L998.8 959.9 L1001.8 964.6 L1004.8 969.2 L1007.8 973.7 L1010.8 978.3 L1013.8 982.8 L1016.8 987.3 L1019.8 991.8 L1022.8 996.2 L1025.8 1000.6 L1028.8 1005.0 L1031.8 1009.4 L1034.8 1013.7 L1037.8 1018.0 L1040.8 1022.2 L1043.8 1026.4 L1046.8 1030.6 L1049.8 1034.7 L1052.8 1038.8 L1055.8 1042.8 L1058.8 1046.9 L1061.8 1050.8 L1064.8 1054.7 L1067.8 1058.6 L1070.8 1062.5 L1073.8 1066.3 L1076.8 1070.0 L1079.8 1073.7 L1082.8 1077.3 L1085.8 1080.9 L1088.8 1084.5 L1091.8 1088.0 L1094.9 1091.4 L1097.9 1094.8 L1100.9 1098.2 L1103.9 1101.5 L1106.9 1104.8 L1109.9 1108.0 L1112.9 1111.1 L1115.9 1114.3 L1118.9 1117.4 L1121.9 1120.4 L1124.9 1123.4 L1127.9 1126.3 L1130.9 1129.3 L1133.9 1132.1 L1136.9 1135.0 L1139.9 1137.8 L1142.9 1140.5 L1145.9 1143.2 L1148.9 1145.9 L1151.9 1148.6 L1154.9 1151.2 L1157.9 1153.8 L1160.9 1156.3 L1163.9 1158.8 L1166.9 1161.3 L1169.9 1163.8 L1172.9 1166.2 L1175.9 1168.6 L1178.9 1170.9 L1181.9 1173.3 L1184.9 1175.6 L1187.9 1177.9 L1190.9 1180.1 L1193.9 1182.4 L1196.9 1184.6 L1199.9 1186.7 L1202.9 1188.9 L1205.9 1191.0 L1208.9 1193.2 L1211.9 1195.2 L1214.9 1197.3 L1217.9 1199.4 L1221.0 1201.4 L1224.0 1203.4 L1227.0 1205.4 L1230.0 1207.4 L1233.0 1209.4 L1236.0 1211.4 L1239.0 1213.3 L1242.0 1215.2 L1245.0 1217.1 L1248.0 1219.0 L1251.0 1220.9 L1254.0 1222.8 L1257.0 1224.7 L1260.0 1226.5 L1263.0 1228.3 L1266.0 1230.2 L1269.0 1232.0 L1272.0 1233.8 L1275.0 1235.5 L1278.0 1237.3 L1281.0 1239.1 L1284.0 1240.8 L1287.0 1242.5 L1290.0 1244.2 L1293.0 1245.9 L1296.0 1247.6 L1299.0 1249.3 L1302.0 1250.9 L1305.0 1252.6 L1308.0 1254.2 L1311.0 1255.8 L1314.0 1257.4 L1317.0 1259.0 L1320.0 1260.6 L1323.0 1262.2 L1326.0 1263.7 L1329.0 1265.3 L1332.0 1266.8 L1335.0 1268.3 L1338.0 1269.8 L1341.0 1271.3 L1344.0 1272.8 L1347.0 1274.3 L1350.1 1275.7 L1353.1 1277.1 L1356.1 1278.6 L1359.1 1280.0 L1362.1 1281.4 L1365.1 1282.8 L1368.1 1284.1 L1371.1 1285.5 L1374.1 1286.9 L1377.1 1288.2 L1380.1 1289.5 L1383.1 1290.8 L1386.1 1292.1 L1389.1 1293.4 L1392.1 1294.7 L1395.1 1296.0 L1398.1 1297.2 L1401.1 1298.4 L1404.1 1299.7 L1407.1 1300.9 L1410.1 1302.1 L1413.1 1303.3 L1416.1 1304.5 L1419.1 1305.6 L1422.1 1306.8 L1425.1 1307.9 L1428.1 1309.0 L1431.1 1310.2 L1434.1 1311.3 L1437.1 1312.4 L1440.1 1313.4 L1443.1 1314.5 L1446.1 1315.6 L1449.1 1316.6 L1452.1 1317.7 L1455.1 1318.7 L1458.1 1319.7 L1461.1 1320.7 L1464.1 1321.7 L1467.1 1322.7 L1470.1 1323.6 L1473.1 1324.6 L1476.2 1325.5 L1479.2 1326.5 L1482.2 1327.4 L1485.2 1328.3 L1488.2 1329.2 L1491.2 1330.1 L1494.2 1331.0 L1497.2 1331.8 L1500.2 1332.7 L1503.2 1333.5 L1506.2 1334.4 L1509.2 1335.2 L1512.2 1336.0 L1515.2 1336.8 L1518.2 1337.6 L1521.2 1338.4 L1524.2 1339.2 L1527.2 1340.0 L1530.2 1340.7 L1533.2 1341.5 L1536.2 1342.2 L1539.2 1343.0 L1542.2 1343.7 L1545.2 1344.4 L1548.2 1345.1 L1551.2 1345.8 L1554.2 1346.5 L1557.2 1347.2 L1560.2 1347.8 L1563.2 1348.5 L1566.2 1349.1 L1569.2 1349.8 L1572.2 1350.4 L1575.2 1351.0 L1578.2 1351.7 L1581.2 1352.3 L1584.2 1352.9 L1587.2 1353.5 L1590.2 1354.0 L1593.2 1354.6 L1596.2 1355.2 L1599.2 1355.7 L1602.2 1356.3 L1605.3 1356.8 L1608.3 1357.4 L1611.3 1357.9 L1614.3 1358.4 L1617.3 1358.9 L1620.3 1359.4 L1623.3 1359.9 L1626.3 1360.4 L1629.3 1360.9 L1632.3 1361.4 L1635.3 1361.9 L1638.3 1362.3 L1641.3 1362.8 L1644.3 1363.2 L1647.3 1363.7 L1650.3 1364.1 L1653.3 1364.5 L1656.3 1364.9 L1659.3 1365.4 L1662.3 1365.8 L1665.3 1366.2 L1668.3 1366.6 L1671.3 1367.0 L1674.3 1367.3 L1677.3 1367.7 L1680.3 1368.1 L1683.3 1368.5 L1686.3 1368.8 L1689.3 1369.2 L1692.3 1369.5 L1695.3 1369.9 L1698.3 1370.2 L1701.3 1370.5 L1704.3 1370.9 L1707.3 1371.2 L1710.3 1371.5 L1713.3 1371.8 L1716.3 1372.1 L1719.3 1372.4 L1722.3 1372.7 L1725.3 1373.0 L1728.3 1373.3 L1731.4 1373.6 L1734.4 1373.9 L1737.4 1374.1 L1740.4 1374.4 L1743.4 1374.7 L1746.4 1374.9 L1749.4 1375.2 L1752.4 1375.4 L1755.4 1375.7 L1758.4 1375.9 L1761.4 1376.1 L1764.4 1376.4 L1767.4 1376.6 L1770.4 1376.8 L1773.4 1377.1 L1776.4 1377.3 L1779.4 1377.5 L1782.4 1377.7 L1785.4 1377.9 L1788.4 1378.1 L1791.4 1378.3 L1794.4 1378.5 L1797.4 1378.7 L1800.4 1378.9 L1803.4 1379.1 L1806.4 1379.3 L1809.4 1379.5 L1812.4 1379.7 L1815.4 1379.8 L1818.4 1380.0 L1821.4 1380.2 L1824.4 1380.4 L1827.4 1380.5 L1830.4 1380.7 L1833.4 1380.9 L1836.4 1381.0 L1839.4 1381.2 L1842.4 1381.4 L1845.4 1381.5 L1848.4 1381.7 L1851.4 1381.8 L1854.4 1382.0 L1857.4 1382.1 L1860.5 1382.3 L1863.5 1382.4 L1866.5 1382.6 L1869.5 1382.7 L1872.5 1382.9 L1875.5 1383.0 L1878.5 1383.1 L1881.5 1383.3 L1884.5 1383.4 L1887.5 1383.6 L1890.5 1383.7 L1893.5 1383.8 L1896.5 1384.0 L1899.5 1384.1 L1902.5 1384.2 L1905.5 1384.4 L1908.5 1384.5 L1911.5 1384.6 L1914.5 1384.8 L1917.5 1384.9 L1920.5 1385.0 L1923.5 1385.2 L1926.5 1385.3 L1929.5 1385.4 L1932.5 1385.6 L1935.5 1385.7 L1938.5 1385.8 L1941.5 1386.0 L1944.5 1386.1 L1947.5 1386.2 L1950.5 1386.4 L1953.5 1386.5 L1956.5 1386.6 L1959.5 1386.8 L1962.5 1386.9 L1965.5 1387.1 L1968.5 1387.2 L1971.5 1387.3 L1974.5 1387.5 L1977.5 1387.6 L1980.5 1387.8 L1983.5 1387.9 L1986.6 1388.1 L1989.6 1388.2 L1992.6 1388.4 L1995.6 1388.5 L1998.6 1388.7 L2001.6 1388.9 L2004.6 1389.0 L2007.6 1389.2 L2010.6 1389.3 L2013.6 1389.5 L2016.6 1389.7 L2019.6 1389.8 L2022.6 1390.0 L2025.6 1390.2 L2028.6 1390.4 L2031.6 1390.6 L2034.6 1390.7 L2037.6 1390.9 L2040.6 1391.1 L2043.6 1391.3 L2046.6 1391.5 L2049.6 1391.7" fill="none" stroke="#f4660f" stroke-width="5.7" stroke-linejoin="round" stroke-linecap="butt"/>
<g font-size="72.5">
<text x="219" y="1425.2" text-anchor="end" font-size="73">0.0</text>
<text x="219" y="1175.5" text-anchor="end" font-size="73">0.2</text>
<text x="219" y="925.8" text-anchor="end" font-size="73">0.4</text>
<text x="219" y="676.0" text-anchor="end" font-size="73">0.6</text>
<text x="219" y="426.3" text-anchor="end" font-size="73">0.8</text>
<text x="219" y="176.6" text-anchor="end" font-size="73">1.0</text>
<text x="489.4" y="1566" text-anchor="middle">450</text>
<text x="1005.8" y="1566" text-anchor="middle">500</text>
<text x="1522.2" y="1566" text-anchor="middle">550</text>
<text x="2038.6" y="1566" text-anchor="middle">600</text>
<text x="998" y="1639" textLength="479" lengthAdjust="spacingAndGlyphs">Wavelength / nm</text>
<text transform="translate(85.3 797.4) rotate(-90)" text-anchor="middle" font-size="72">Fluorescence intensity (a.u)</text>
</g>
<path d="M631.3 193.7 L805.2 147.2" stroke="#fa0a12" stroke-width="6" fill="none"/>
<path d="M847.8 136.5 L796.3 173.7 L801.2 148.2 L784.9 128.1 Z" fill="#fa0a12"/>
<path d="M536.3 1312.8 L672.4 1233" stroke="#fa0a12" stroke-width="5.8" stroke-dasharray="19.4 15.2" fill="none"/>
<path d="M716.0 1208.5 L684.7 1259.4 L680.5 1228.9 L656.3 1210.0 Z" fill="#fa0a12"/>
<ellipse cx="542.8" cy="1374.7" rx="85" ry="54.2" fill="none" stroke="#fa0a12" stroke-width="7" stroke-dasharray="7.4 8.7"/>
<g font-size="81">
<text x="896" y="160.5"><tspan font-weight="bold">1</tspan> + H<tspan font-size="47" dy="27">2</tspan><tspan dy="-27">S</tspan></text>
<text x="529" y="1104.2"><tspan font-weight="bold">1, 1</tspan> + other</text>
<text x="584" y="1185.6">analytes</text>
</g>
</svg></body></html>
